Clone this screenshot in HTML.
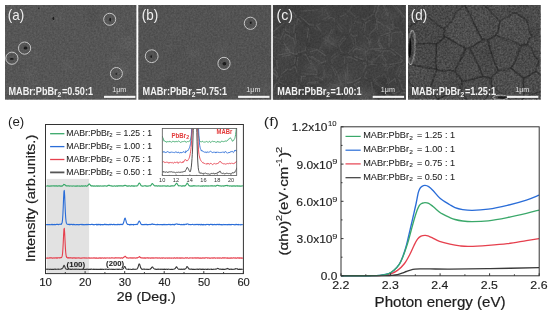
<!DOCTYPE html>
<html><head><meta charset="utf-8"><style>
html,body{margin:0;padding:0;background:#fff;overflow:hidden;}
svg{display:block;}
text{font-family:"Liberation Sans",sans-serif;}
</style></head><body>
<svg width="550" height="314" viewBox="0 0 550 314">
<rect width="550" height="314" fill="#fff"/>
<defs><filter id="bl" x="-30%" y="-30%" width="160%" height="160%"><feGaussianBlur stdDeviation="2.5"/></filter><filter id="bl1" x="-10%" y="-10%" width="120%" height="120%"><feGaussianBlur stdDeviation="0.7"/></filter><filter id="bl05" x="-10%" y="-10%" width="120%" height="120%"><feGaussianBlur stdDeviation="0.45"/></filter>
<clipPath id="cpa"><rect x="5.0" y="5.0" width="131.4" height="94.7"/></clipPath>
<clipPath id="cpb"><rect x="138.3" y="5.0" width="132.9" height="94.7"/></clipPath>
<clipPath id="cpc"><rect x="272.9" y="5.0" width="133.0" height="94.7"/></clipPath>
<clipPath id="cpd"><rect x="408.0" y="5.0" width="132.8" height="94.7"/></clipPath>
<filter id="noise" x="0" y="0" width="100%" height="100%" color-interpolation-filters="sRGB"><feTurbulence type="fractalNoise" baseFrequency="0.55" numOctaves="2" seed="4" result="t"/><feColorMatrix type="matrix" values="1.6 0 0 0 -0.3  1.6 0 0 0 -0.3  1.6 0 0 0 -0.3  0 0 0 0 1" in="t"/></filter>
<filter id="noise2" x="0" y="0" width="100%" height="100%"><feTurbulence type="fractalNoise" baseFrequency="0.12" numOctaves="3" seed="9" result="t"/><feColorMatrix type="matrix" values="0 0 0 0 0  0 0 0 0 0  0 0 0 0 0  0 0 0 -1.4 0.75" in="t"/></filter>
</defs>
<rect x="5.0" y="5.0" width="131.4" height="94.7" fill="#555555"/>
<rect x="138.3" y="5.0" width="132.9" height="94.7" fill="#525252"/>
<rect x="272.9" y="5.0" width="133.0" height="94.7" fill="#404040"/>
<rect x="408.0" y="5.0" width="132.8" height="94.7" fill="#494949"/>
<g clip-path="url(#cpa)"><g filter="url(#bl)"><ellipse cx="36.2" cy="56.5" rx="4.5" ry="4.4" fill="rgb(100,100,100)" opacity="0.35"/><ellipse cx="13.6" cy="6.2" rx="6.3" ry="5.9" fill="rgb(96,96,96)" opacity="0.35"/><ellipse cx="30.1" cy="72.9" rx="5.2" ry="4.3" fill="rgb(100,100,100)" opacity="0.35"/><ellipse cx="117.8" cy="27.0" rx="3.6" ry="3.8" fill="rgb(100,100,100)" opacity="0.35"/><ellipse cx="93.0" cy="11.1" rx="6.0" ry="4.7" fill="rgb(72,72,72)" opacity="0.35"/><ellipse cx="9.1" cy="87.0" rx="4.9" ry="5.0" fill="rgb(100,100,100)" opacity="0.35"/><ellipse cx="125.7" cy="42.4" rx="6.2" ry="7.3" fill="rgb(100,100,100)" opacity="0.35"/><ellipse cx="22.6" cy="39.6" rx="3.1" ry="2.3" fill="rgb(100,100,100)" opacity="0.35"/><ellipse cx="131.5" cy="46.3" rx="5.5" ry="4.7" fill="rgb(96,96,96)" opacity="0.35"/><ellipse cx="114.2" cy="59.4" rx="5.1" ry="4.9" fill="rgb(100,100,100)" opacity="0.35"/><ellipse cx="123.5" cy="69.6" rx="6.7" ry="8.0" fill="rgb(96,96,96)" opacity="0.35"/><ellipse cx="92.9" cy="20.4" rx="6.4" ry="6.6" fill="rgb(72,72,72)" opacity="0.35"/><ellipse cx="32.7" cy="83.8" rx="5.3" ry="3.6" fill="rgb(96,96,96)" opacity="0.35"/><ellipse cx="68.1" cy="65.5" rx="4.9" ry="5.3" fill="rgb(96,96,96)" opacity="0.35"/><ellipse cx="58.8" cy="19.3" rx="4.2" ry="4.7" fill="rgb(100,100,100)" opacity="0.35"/><ellipse cx="10.8" cy="63.2" rx="3.2" ry="3.0" fill="rgb(96,96,96)" opacity="0.35"/><ellipse cx="125.8" cy="31.4" rx="3.9" ry="3.1" fill="rgb(72,72,72)" opacity="0.35"/><ellipse cx="15.1" cy="61.8" rx="3.1" ry="3.7" fill="rgb(76,76,76)" opacity="0.35"/></g></g>
<g clip-path="url(#cpb)"><g filter="url(#bl)"><ellipse cx="176.8" cy="29.9" rx="5.8" ry="4.5" fill="rgb(94,94,94)" opacity="0.35"/><ellipse cx="265.5" cy="89.9" rx="4.5" ry="5.1" fill="rgb(98,98,98)" opacity="0.35"/><ellipse cx="189.4" cy="87.1" rx="5.7" ry="5.6" fill="rgb(70,70,70)" opacity="0.35"/><ellipse cx="263.1" cy="53.0" rx="4.7" ry="5.5" fill="rgb(74,74,74)" opacity="0.35"/><ellipse cx="196.2" cy="29.5" rx="4.2" ry="2.6" fill="rgb(94,94,94)" opacity="0.35"/><ellipse cx="193.2" cy="59.9" rx="3.1" ry="2.0" fill="rgb(74,74,74)" opacity="0.35"/><ellipse cx="221.4" cy="49.2" rx="5.7" ry="5.5" fill="rgb(94,94,94)" opacity="0.35"/><ellipse cx="175.1" cy="51.4" rx="5.4" ry="6.3" fill="rgb(70,70,70)" opacity="0.35"/><ellipse cx="171.4" cy="48.2" rx="5.4" ry="3.8" fill="rgb(94,94,94)" opacity="0.35"/><ellipse cx="162.6" cy="76.8" rx="6.4" ry="5.0" fill="rgb(94,94,94)" opacity="0.35"/><ellipse cx="188.2" cy="78.1" rx="3.1" ry="2.4" fill="rgb(74,74,74)" opacity="0.35"/><ellipse cx="167.6" cy="81.1" rx="4.0" ry="4.0" fill="rgb(74,74,74)" opacity="0.35"/><ellipse cx="224.4" cy="14.2" rx="5.4" ry="5.4" fill="rgb(94,94,94)" opacity="0.35"/><ellipse cx="167.9" cy="81.7" rx="6.8" ry="5.5" fill="rgb(70,70,70)" opacity="0.35"/><ellipse cx="224.5" cy="88.8" rx="4.8" ry="5.2" fill="rgb(74,74,74)" opacity="0.35"/><ellipse cx="142.5" cy="95.7" rx="4.3" ry="4.8" fill="rgb(74,74,74)" opacity="0.35"/><ellipse cx="183.2" cy="83.4" rx="3.3" ry="3.2" fill="rgb(94,94,94)" opacity="0.35"/><ellipse cx="194.0" cy="54.1" rx="6.4" ry="5.2" fill="rgb(98,98,98)" opacity="0.35"/></g></g>
<g clip-path="url(#cpc)"><g filter="url(#bl)"><ellipse cx="328.4" cy="44.8" rx="6.0" ry="4.2" fill="rgb(92,92,92)" opacity="0.50"/><ellipse cx="273.6" cy="94.3" rx="8.4" ry="7.9" fill="rgb(92,92,92)" opacity="0.50"/><ellipse cx="404.1" cy="72.9" rx="4.2" ry="4.6" fill="rgb(92,92,92)" opacity="0.50"/><ellipse cx="361.2" cy="54.2" rx="5.4" ry="6.2" fill="rgb(88,88,88)" opacity="0.50"/><ellipse cx="387.6" cy="86.3" rx="8.9" ry="9.6" fill="rgb(52,52,52)" opacity="0.50"/><ellipse cx="279.0" cy="90.6" rx="7.5" ry="8.5" fill="rgb(56,56,56)" opacity="0.50"/><ellipse cx="392.7" cy="59.6" rx="4.1" ry="2.9" fill="rgb(52,52,52)" opacity="0.50"/><ellipse cx="312.9" cy="67.8" rx="6.6" ry="4.2" fill="rgb(92,92,92)" opacity="0.50"/><ellipse cx="394.4" cy="15.8" rx="4.6" ry="5.0" fill="rgb(92,92,92)" opacity="0.50"/><ellipse cx="281.2" cy="25.9" rx="4.6" ry="3.2" fill="rgb(52,52,52)" opacity="0.50"/><ellipse cx="378.3" cy="92.3" rx="8.0" ry="7.2" fill="rgb(52,52,52)" opacity="0.50"/><ellipse cx="348.9" cy="42.9" rx="7.8" ry="5.9" fill="rgb(56,56,56)" opacity="0.50"/><ellipse cx="343.1" cy="45.1" rx="6.4" ry="7.1" fill="rgb(52,52,52)" opacity="0.50"/><ellipse cx="376.1" cy="9.4" rx="4.2" ry="5.0" fill="rgb(92,92,92)" opacity="0.50"/><ellipse cx="386.6" cy="13.2" rx="6.5" ry="4.5" fill="rgb(88,88,88)" opacity="0.50"/><ellipse cx="282.5" cy="41.5" rx="5.9" ry="4.9" fill="rgb(88,88,88)" opacity="0.50"/><ellipse cx="298.4" cy="36.1" rx="4.6" ry="4.8" fill="rgb(52,52,52)" opacity="0.50"/><ellipse cx="323.6" cy="12.6" rx="4.9" ry="4.3" fill="rgb(88,88,88)" opacity="0.50"/><ellipse cx="359.5" cy="56.3" rx="7.2" ry="7.0" fill="rgb(52,52,52)" opacity="0.50"/><ellipse cx="330.4" cy="40.3" rx="6.5" ry="5.5" fill="rgb(88,88,88)" opacity="0.50"/><ellipse cx="365.3" cy="48.6" rx="5.2" ry="5.3" fill="rgb(88,88,88)" opacity="0.50"/><ellipse cx="282.5" cy="45.2" rx="6.1" ry="7.1" fill="rgb(52,52,52)" opacity="0.50"/><ellipse cx="322.8" cy="90.0" rx="8.0" ry="5.4" fill="rgb(88,88,88)" opacity="0.50"/><ellipse cx="364.8" cy="93.9" rx="7.7" ry="7.7" fill="rgb(92,92,92)" opacity="0.50"/><ellipse cx="370.6" cy="58.4" rx="4.5" ry="4.0" fill="rgb(52,52,52)" opacity="0.50"/><ellipse cx="304.4" cy="41.8" rx="6.6" ry="6.6" fill="rgb(52,52,52)" opacity="0.50"/><ellipse cx="323.0" cy="82.6" rx="5.7" ry="3.5" fill="rgb(52,52,52)" opacity="0.50"/><ellipse cx="288.3" cy="50.6" rx="7.5" ry="7.1" fill="rgb(88,88,88)" opacity="0.50"/><ellipse cx="379.2" cy="8.4" rx="7.8" ry="5.2" fill="rgb(56,56,56)" opacity="0.50"/><ellipse cx="372.6" cy="93.5" rx="4.3" ry="4.8" fill="rgb(88,88,88)" opacity="0.50"/><ellipse cx="297.0" cy="12.3" rx="9.0" ry="7.8" fill="rgb(56,56,56)" opacity="0.50"/><ellipse cx="366.1" cy="94.3" rx="5.3" ry="6.1" fill="rgb(92,92,92)" opacity="0.50"/><ellipse cx="347.0" cy="96.5" rx="5.9" ry="7.0" fill="rgb(56,56,56)" opacity="0.50"/><ellipse cx="327.9" cy="75.8" rx="4.8" ry="3.3" fill="rgb(92,92,92)" opacity="0.50"/><ellipse cx="326.3" cy="89.1" rx="4.8" ry="5.0" fill="rgb(92,92,92)" opacity="0.50"/><ellipse cx="394.9" cy="54.0" rx="6.2" ry="4.2" fill="rgb(56,56,56)" opacity="0.50"/><ellipse cx="373.0" cy="18.9" rx="6.6" ry="7.3" fill="rgb(56,56,56)" opacity="0.50"/><ellipse cx="344.6" cy="78.8" rx="7.4" ry="7.0" fill="rgb(92,92,92)" opacity="0.50"/><ellipse cx="350.7" cy="98.2" rx="8.4" ry="5.2" fill="rgb(88,88,88)" opacity="0.50"/><ellipse cx="336.8" cy="41.2" rx="4.9" ry="3.6" fill="rgb(88,88,88)" opacity="0.50"/><ellipse cx="337.2" cy="86.8" rx="6.1" ry="6.2" fill="rgb(92,92,92)" opacity="0.50"/><ellipse cx="300.4" cy="60.0" rx="8.5" ry="7.6" fill="rgb(52,52,52)" opacity="0.50"/><ellipse cx="368.9" cy="86.1" rx="6.0" ry="5.3" fill="rgb(52,52,52)" opacity="0.50"/><ellipse cx="303.5" cy="27.2" rx="7.6" ry="8.9" fill="rgb(52,52,52)" opacity="0.50"/><ellipse cx="386.6" cy="27.9" rx="4.9" ry="3.4" fill="rgb(88,88,88)" opacity="0.50"/></g></g>
<g clip-path="url(#cpd)"><g filter="url(#bl)"><ellipse cx="490.7" cy="68.9" rx="4.2" ry="2.9" fill="rgb(86,86,86)" opacity="0.45"/><ellipse cx="414.0" cy="22.4" rx="4.5" ry="3.0" fill="rgb(56,56,56)" opacity="0.45"/><ellipse cx="443.1" cy="91.5" rx="4.2" ry="4.0" fill="rgb(90,90,90)" opacity="0.45"/><ellipse cx="497.8" cy="5.7" rx="5.7" ry="4.7" fill="rgb(90,90,90)" opacity="0.45"/><ellipse cx="418.4" cy="66.0" rx="7.7" ry="6.4" fill="rgb(90,90,90)" opacity="0.45"/><ellipse cx="480.4" cy="16.3" rx="5.4" ry="3.6" fill="rgb(90,90,90)" opacity="0.45"/><ellipse cx="526.0" cy="91.1" rx="4.5" ry="4.5" fill="rgb(86,86,86)" opacity="0.45"/><ellipse cx="457.0" cy="47.7" rx="7.3" ry="4.9" fill="rgb(86,86,86)" opacity="0.45"/><ellipse cx="533.6" cy="37.1" rx="6.8" ry="6.8" fill="rgb(56,56,56)" opacity="0.45"/><ellipse cx="475.7" cy="10.6" rx="5.5" ry="5.4" fill="rgb(60,60,60)" opacity="0.45"/><ellipse cx="505.1" cy="19.2" rx="5.9" ry="3.9" fill="rgb(90,90,90)" opacity="0.45"/><ellipse cx="531.9" cy="18.4" rx="5.7" ry="5.3" fill="rgb(90,90,90)" opacity="0.45"/><ellipse cx="494.1" cy="48.3" rx="5.6" ry="5.7" fill="rgb(60,60,60)" opacity="0.45"/><ellipse cx="422.3" cy="22.2" rx="6.8" ry="5.5" fill="rgb(90,90,90)" opacity="0.45"/><ellipse cx="443.4" cy="41.3" rx="8.4" ry="7.4" fill="rgb(56,56,56)" opacity="0.45"/><ellipse cx="444.1" cy="70.9" rx="6.6" ry="7.7" fill="rgb(86,86,86)" opacity="0.45"/><ellipse cx="467.6" cy="81.6" rx="4.3" ry="4.8" fill="rgb(90,90,90)" opacity="0.45"/><ellipse cx="422.9" cy="30.6" rx="4.5" ry="4.2" fill="rgb(56,56,56)" opacity="0.45"/><ellipse cx="529.0" cy="15.6" rx="7.5" ry="7.5" fill="rgb(90,90,90)" opacity="0.45"/><ellipse cx="460.0" cy="98.1" rx="4.6" ry="5.2" fill="rgb(60,60,60)" opacity="0.45"/><ellipse cx="514.2" cy="56.6" rx="4.9" ry="3.5" fill="rgb(60,60,60)" opacity="0.45"/><ellipse cx="441.3" cy="79.0" rx="4.2" ry="4.7" fill="rgb(90,90,90)" opacity="0.45"/><ellipse cx="534.3" cy="41.3" rx="6.8" ry="6.6" fill="rgb(86,86,86)" opacity="0.45"/><ellipse cx="537.9" cy="70.0" rx="5.5" ry="3.4" fill="rgb(90,90,90)" opacity="0.45"/><ellipse cx="433.3" cy="65.0" rx="4.5" ry="4.1" fill="rgb(60,60,60)" opacity="0.45"/><ellipse cx="477.6" cy="48.6" rx="5.0" ry="3.1" fill="rgb(60,60,60)" opacity="0.45"/><ellipse cx="474.6" cy="66.2" rx="6.2" ry="7.3" fill="rgb(86,86,86)" opacity="0.45"/><ellipse cx="526.6" cy="17.8" rx="8.0" ry="4.9" fill="rgb(56,56,56)" opacity="0.45"/><ellipse cx="490.2" cy="52.9" rx="6.5" ry="7.5" fill="rgb(56,56,56)" opacity="0.45"/><ellipse cx="451.0" cy="87.4" rx="7.5" ry="4.8" fill="rgb(60,60,60)" opacity="0.45"/><ellipse cx="519.6" cy="78.4" rx="4.2" ry="4.4" fill="rgb(56,56,56)" opacity="0.45"/><ellipse cx="453.7" cy="81.4" rx="8.7" ry="7.5" fill="rgb(60,60,60)" opacity="0.45"/><ellipse cx="508.7" cy="50.9" rx="4.5" ry="3.8" fill="rgb(56,56,56)" opacity="0.45"/><ellipse cx="520.4" cy="71.8" rx="6.0" ry="6.1" fill="rgb(90,90,90)" opacity="0.45"/><ellipse cx="479.5" cy="45.0" rx="7.2" ry="4.4" fill="rgb(86,86,86)" opacity="0.45"/></g></g>
<g clip-path="url(#cpd)"><g filter="url(#bl05)" stroke-linejoin="round">
<path d="M444.4,36.1 L445.4,34.2 L444.9,31.6 L443.9,29.1 L438.4,25.4 L433.3,21.2 L426.1,15.6 L420.9,19.2 L413.7,23.7 L407.9,29.7 L410.9,35.2 L412.4,38.4 L416.5,44.1 L422.7,43.5 L430.2,43.8 L436.2,44.3 L439.2,41.6 L441.8,40.1Z" fill="rgb(73,73,73)" fill-opacity="0.55" stroke="#2c2c2c" stroke-width="1.5" stroke-opacity="0.6"/>
<path d="M436.8,69.8 L441.8,71.2 L450.2,70.6 L455.1,71.6 L458.7,64.5 L462.0,54.9 L466.1,48.2 L458.0,43.7 L450.8,39.9 L444.4,36.1 L442.2,39.6 L438.8,42.7 L436.2,44.3 L436.2,52.4 L435.1,60.0 L436.3,69.0 L437.2,69.6 L437.3,70.8Z" fill="rgb(74,74,74)" fill-opacity="0.55" stroke="#2c2c2c" stroke-width="1.5" stroke-opacity="0.6"/>
<path d="M436.8,69.8 L434.9,76.0 L431.6,84.1 L429.5,89.9 L426.4,89.8 L422.0,89.7 L416.5,90.3 L409.5,82.8 L405.0,76.2 L398.4,67.3 L402.1,66.6 L404.0,65.0 L405.9,63.0 L416.5,65.7 L427.2,66.7 L436.3,69.0 L435.4,68.6 L435.9,69.2Z" fill="rgb(79,79,79)" fill-opacity="0.55" stroke="#2c2c2c" stroke-width="1.5" stroke-opacity="0.6"/>
<path d="M436.8,69.8 L433.6,76.1 L432.0,83.5 L429.5,89.9 L431.5,93.8 L435.2,95.3 L437.3,99.7 L443.9,96.0 L453.4,94.1 L460.5,89.6 L461.6,87.7 L462.4,83.0 L462.0,81.0 L459.9,77.5 L458.0,73.6 L455.1,71.6 L448.2,70.1 L444.3,71.6Z" fill="rgb(76,76,76)" fill-opacity="0.55" stroke="#2c2c2c" stroke-width="1.5" stroke-opacity="0.6"/>
<path d="M464.5,5.0 L466.1,-1.2 L465.7,-5.9 L468.2,-11.7 L478.4,0.2 L489.2,9.9 L500.2,21.4 L499.1,26.1 L498.4,31.3 L495.7,35.3 L493.1,36.1 L490.7,39.0 L487.7,39.9 L486.6,41.2 L483.4,39.7 L482.3,39.8 L476.2,27.9 L470.2,16.8Z" fill="rgb(79,79,79)" fill-opacity="0.55" stroke="#2c2c2c" stroke-width="1.5" stroke-opacity="0.6"/>
<path d="M482.3,39.8 L483.0,38.8 L485.3,39.0 L487.7,39.9 L490.2,49.9 L494.3,60.5 L498.4,70.4 L495.8,74.0 L493.5,76.8 L491.1,78.7 L487.2,77.1 L486.0,77.0 L482.9,76.5 L478.3,66.0 L473.1,57.7 L469.3,47.6 L473.7,45.0 L478.8,42.0Z" fill="rgb(71,71,71)" fill-opacity="0.55" stroke="#2c2c2c" stroke-width="1.5" stroke-opacity="0.6"/>
<path d="M527.0,44.3 L524.0,44.3 L522.9,45.7 L521.4,46.1 L513.7,42.9 L503.6,40.0 L495.7,35.3 L497.8,30.7 L499.1,26.2 L500.2,21.4 L503.6,18.7 L510.0,16.0 L513.1,12.2 L516.5,13.6 L522.7,18.0 L525.9,19.4 L528.7,25.7 L529.2,31.5 L532.3,36.5 L529.7,38.1 L528.5,40.3Z" fill="rgb(83,83,83)" fill-opacity="0.55" stroke="#2c2c2c" stroke-width="1.5" stroke-opacity="0.6"/>
<path d="M538.8,60.5 L537.4,64.9 L536.1,67.3 L536.4,71.5 L532.2,74.1 L527.6,76.2 L523.2,78.4 L520.4,75.7 L516.4,72.7 L511.0,68.2 L515.6,59.9 L516.6,52.9 L521.4,46.1 L522.1,44.6 L526.0,46.0 L527.0,44.3 L531.9,48.4 L534.3,55.7Z" fill="rgb(75,75,75)" fill-opacity="0.55" stroke="#2c2c2c" stroke-width="1.5" stroke-opacity="0.6"/>
<path d="M491.1,78.7 L492.1,80.8 L490.7,84.2 L492.5,86.8 L502.2,93.8 L510.1,99.6 L520.3,105.6 L522.5,102.5 L521.9,100.5 L523.5,98.1 L523.6,92.9 L523.5,86.1 L523.2,78.4 L519.6,75.0 L514.6,71.3 L511.0,68.2 L507.6,68.1 L501.8,68.9 L498.4,70.4 L496.4,72.8 L492.8,75.4Z" fill="rgb(84,84,84)" fill-opacity="0.55" stroke="#2c2c2c" stroke-width="1.5" stroke-opacity="0.6"/>
<path d="M491.1,78.7 L491.3,80.6 L491.0,83.5 L492.5,86.8 L487.0,96.6 L480.5,105.3 L475.1,114.0 L470.3,105.9 L464.3,97.6 L460.5,89.6 L459.7,87.2 L462.0,82.8 L462.0,81.0 L468.3,80.7 L475.1,78.2 L482.9,76.5 L484.8,76.5 L487.2,78.1Z" fill="rgb(76,76,76)" fill-opacity="0.55" stroke="#2c2c2c" stroke-width="1.5" stroke-opacity="0.6"/>
<path d="M444.4,36.1 L443.0,34.4 L445.4,30.3 L443.9,29.1 L451.7,21.2 L456.2,12.0 L464.5,5.0 L470.4,15.4 L475.7,27.4 L482.3,39.8 L479.2,42.3 L473.2,46.1 L469.3,47.6 L469.5,48.4 L466.3,49.0 L466.1,48.2 L458.8,45.0 L452.3,40.6Z" fill="rgb(82,82,82)" fill-opacity="0.55" stroke="#2c2c2c" stroke-width="1.5" stroke-opacity="0.6"/>
<path d="M487.7,39.9 L490.7,49.7 L493.7,61.2 L498.4,70.4 L502.6,70.7 L506.7,69.9 L511.0,68.2 L515.1,62.2 L517.9,53.7 L521.4,46.1 L514.0,41.4 L504.1,38.1 L495.7,35.3 L493.6,37.8 L490.5,38.4Z" fill="rgb(78,78,78)" fill-opacity="0.55" stroke="#2c2c2c" stroke-width="1.5" stroke-opacity="0.6"/>
<path d="M436.3,69.0 L425.7,68.0 L415.7,65.7 L405.9,63.0 L408.9,56.8 L413.9,50.5 L416.5,44.1 L423.3,43.8 L429.4,43.1 L436.2,44.3 L436.3,52.3 L435.7,59.8Z" fill="rgb(72,72,72)" fill-opacity="0.55" stroke="#2c2c2c" stroke-width="1.5" stroke-opacity="0.6"/>
<path d="M523.2,78.4 L523.6,84.1 L524.3,91.6 L523.5,98.1 L532.6,94.1 L543.9,90.3 L553.8,85.1 L548.4,80.7 L541.0,75.6 L536.4,71.5 L533.1,72.8 L527.5,76.8Z" fill="rgb(80,80,80)" fill-opacity="0.55" stroke="#2c2c2c" stroke-width="1.5" stroke-opacity="0.6"/>
<path d="M455.1,71.6 L456.9,74.4 L459.9,76.6 L462.0,81.0 L469.7,79.7 L475.6,78.4 L482.9,76.5 L479.6,67.8 L474.3,56.7 L469.3,47.6 L469.5,47.5 L468.3,48.0 L466.1,48.2 L462.9,56.9 L457.7,63.1Z" fill="rgb(77,77,77)" fill-opacity="0.55" stroke="#2c2c2c" stroke-width="1.5" stroke-opacity="0.6"/>
<path d="M468.6,694.6 L458.4,497.6 L448.9,302.9 L437.3,99.7 L445.6,95.6 L452.7,92.6 L460.5,89.6 L466.4,98.5 L469.2,105.0 L475.1,114.0 L472.6,306.7 L471.7,496.8Z" fill="rgb(85,85,85)" fill-opacity="0.55" stroke="#2c2c2c" stroke-width="1.5" stroke-opacity="0.6"/>
</g></g>
<g clip-path="url(#cpd)">
<ellipse cx="409.4" cy="47" rx="1.9" ry="10.5" fill="#101010" filter="url(#bl05)"/>
<ellipse cx="411.4" cy="47.6" rx="3.6" ry="17" fill="none" stroke="#9a9a9a" stroke-width="1.1" transform="rotate(3 411.4 47.6)" filter="url(#bl05)"/>
<ellipse cx="500.6" cy="97.4" rx="7.6" ry="2.3" fill="none" stroke="#b0b0b0" stroke-width="0.9" filter="url(#bl05)"/>
<ellipse cx="502" cy="97.6" rx="4" ry="1.1" fill="#1a1a1a" filter="url(#bl05)"/>
</g>
<g clip-path="url(#cpc)"><g filter="url(#bl1)" fill="none" stroke-linejoin="round">
<path d="M293.3,12.0 L296.0,16.0 L293.5,35.1 L285.5,30.5 L285.5,21.4 L290.7,9.9Z" fill="rgb(74,74,74)" fill-opacity="0.35" stroke="rgb(94,94,94)" stroke-width="1.3" stroke-opacity="0.6" stroke-dasharray="9 6" stroke-dashoffset="2"/>
<path d="M160.0,69.1 L-2053.8,137.8 L182.7,85.8 L184.5,83.4Z" fill="rgb(69,69,69)" fill-opacity="0.35" stroke="rgb(89,89,89)" stroke-width="1.3" stroke-opacity="0.6" stroke-dasharray="18 10" stroke-dashoffset="3"/>
<path d="M360.0,268.9 L346.7,100.3 L346.7,100.3 L342.2,100.0 L334.1,101.3 L331.7,103.8 L325.8,131.7 L362.5,491.4 L364.7,352.1Z" fill="rgb(61,61,61)" fill-opacity="0.35" stroke="rgb(81,81,81)" stroke-width="1.3" stroke-opacity="0.6" stroke-dasharray="19 6" stroke-dashoffset="11"/>
<path d="M376.1,29.7 L379.1,37.0 L377.2,39.0 L370.4,39.4 L368.6,37.2Z" fill="rgb(60,60,60)" fill-opacity="0.35" stroke="rgb(80,80,80)" stroke-width="1.3" stroke-opacity="0.6" stroke-dasharray="8 5" stroke-dashoffset="11"/>
<path d="M326.9,80.7 L326.0,79.7 L323.4,65.9 L330.1,62.7 L339.9,83.5 L331.8,84.8Z" fill="rgb(67,67,67)" fill-opacity="0.35" stroke="rgb(87,87,87)" stroke-width="1.3" stroke-opacity="0.6" stroke-dasharray="11 9" stroke-dashoffset="14"/>
<path d="M337.4,44.9 L328.5,40.5 L328.5,40.4 L335.6,24.3 L345.0,35.9Z" fill="rgb(64,64,64)" fill-opacity="0.35" stroke="rgb(84,84,84)" stroke-width="1.3" stroke-opacity="0.6" stroke-dasharray="8 5" stroke-dashoffset="9"/>
<path d="M334.0,-12.1 L343.3,-16.3 L363.8,-56.9 L269.1,-1047.4 L326.6,-20.4 L331.1,-13.4Z" fill="rgb(65,65,65)" fill-opacity="0.35" stroke="rgb(85,85,85)" stroke-width="1.3" stroke-opacity="0.6" stroke-dasharray="14 11" stroke-dashoffset="7"/>
<path d="M387.1,91.0 L385.5,88.0 L389.6,82.3 L394.8,78.9 L399.3,91.4 L394.2,93.7Z" fill="rgb(72,72,72)" fill-opacity="0.35" stroke="rgb(92,92,92)" stroke-width="1.3" stroke-opacity="0.6" stroke-dasharray="13 4" stroke-dashoffset="9"/>
<path d="M370.4,40.6 L367.8,49.4 L380.9,48.3 L377.1,40.2Z" fill="rgb(75,75,75)" fill-opacity="0.35" stroke="rgb(95,95,95)" stroke-width="1.3" stroke-opacity="0.6" stroke-dasharray="18 7" stroke-dashoffset="13"/>
<path d="M295.3,56.8 L294.4,63.9 L279.8,75.1 L277.5,69.8 L276.4,57.4 L289.5,55.2Z" fill="rgb(74,74,74)" fill-opacity="0.35" stroke="rgb(94,94,94)" stroke-width="1.3" stroke-opacity="0.6" stroke-dasharray="9 8" stroke-dashoffset="19"/>
<path d="M398.2,76.9 L403.8,64.5 L406.5,62.8 L420.5,60.7 L461.2,71.7 L416.9,88.1 L402.6,89.4Z" fill="rgb(67,67,67)" fill-opacity="0.35" stroke="rgb(87,87,87)" stroke-width="1.3" stroke-opacity="0.6" stroke-dasharray="19 4" stroke-dashoffset="11"/>
<path d="M392.9,33.0 L395.8,32.1 L400.8,31.8 L418.2,56.3 L404.1,58.4 L390.9,48.5 L391.5,34.7Z" fill="rgb(71,71,71)" fill-opacity="0.35" stroke="rgb(91,91,91)" stroke-width="1.3" stroke-opacity="0.6" stroke-dasharray="15 4" stroke-dashoffset="3"/>
<path d="M285.5,34.0 L282.2,40.7 L290.3,52.7 L296.0,54.4 L297.3,53.5 L293.5,38.6Z" fill="rgb(74,74,74)" fill-opacity="0.35" stroke="rgb(94,94,94)" stroke-width="1.3" stroke-opacity="0.6" stroke-dasharray="19 8" stroke-dashoffset="16"/>
<path d="M373.0,14.4 L378.4,-3.3 L378.6,-4.5 L369.3,-29.2 L348.7,11.5 L356.4,17.4 L365.1,19.9Z" fill="rgb(63,63,63)" fill-opacity="0.35" stroke="rgb(83,83,83)" stroke-width="1.3" stroke-opacity="0.6" stroke-dasharray="17 5" stroke-dashoffset="3"/>
<path d="M276.8,82.8 L274.9,85.2 L271.1,97.2 L277.7,100.4 L286.9,89.0 L276.8,82.8Z" fill="rgb(70,70,70)" fill-opacity="0.35" stroke="rgb(90,90,90)" stroke-width="1.3" stroke-opacity="0.6" stroke-dasharray="13 11" stroke-dashoffset="1"/>
<path d="M303.2,83.2 L324.4,81.2 L323.5,80.2 L317.8,77.0 L301.5,76.2 L301.2,82.5Z" fill="rgb(74,74,74)" fill-opacity="0.35" stroke="rgb(94,94,94)" stroke-width="1.3" stroke-opacity="0.6" stroke-dasharray="10 8" stroke-dashoffset="13"/>
<path d="M294.4,90.9 L288.7,90.4 L279.5,101.9 L290.2,115.0 L297.5,101.3Z" fill="rgb(72,72,72)" fill-opacity="0.35" stroke="rgb(92,92,92)" stroke-width="1.3" stroke-opacity="0.6" stroke-dasharray="8 8" stroke-dashoffset="15"/>
<path d="M364.2,77.5 L369.2,64.5 L371.0,64.1 L386.7,66.5 L387.1,66.7 L383.7,72.2 L373.7,80.0 L372.6,79.8Z" fill="rgb(66,66,66)" fill-opacity="0.35" stroke="rgb(86,86,86)" stroke-width="1.3" stroke-opacity="0.6" stroke-dasharray="9 6" stroke-dashoffset="17"/>
<path d="M389.6,80.1 L385.9,72.2 L389.4,66.8 L400.5,64.3 L394.9,76.7Z" fill="rgb(65,65,65)" fill-opacity="0.35" stroke="rgb(85,85,85)" stroke-width="1.3" stroke-opacity="0.6" stroke-dasharray="11 7" stroke-dashoffset="8"/>
<path d="M328.8,16.2 L324.3,9.2 L296.3,11.4 L299.0,15.4 L310.0,25.2 L314.2,24.8Z" fill="rgb(69,69,69)" fill-opacity="0.35" stroke="rgb(89,89,89)" stroke-width="1.3" stroke-opacity="0.6" stroke-dasharray="18 10" stroke-dashoffset="14"/>
<path d="M304.6,84.2 L325.8,82.2 L330.7,86.3 L328.2,88.8 L317.7,92.5Z" fill="rgb(64,64,64)" fill-opacity="0.35" stroke="rgb(84,84,84)" stroke-width="1.3" stroke-opacity="0.6" stroke-dasharray="13 7" stroke-dashoffset="18"/>
<path d="M283.6,32.2 L280.3,39.0 L270.1,35.5 L269.4,34.8 L283.6,23.1Z" fill="rgb(66,66,66)" fill-opacity="0.35" stroke="rgb(86,86,86)" stroke-width="1.3" stroke-opacity="0.6" stroke-dasharray="19 4" stroke-dashoffset="3"/>
<path d="M280.1,41.2 L270.0,37.7 L271.6,51.3 L272.6,55.2 L275.1,55.5 L288.3,53.2Z" fill="rgb(74,74,74)" fill-opacity="0.35" stroke="rgb(94,94,94)" stroke-width="1.3" stroke-opacity="0.6" stroke-dasharray="17 9" stroke-dashoffset="19"/>
<path d="M374.8,19.7 L375.5,28.2 L368.0,35.8 L364.4,32.5 L365.5,23.1 L373.5,17.6Z" fill="rgb(66,66,66)" fill-opacity="0.35" stroke="rgb(86,86,86)" stroke-width="1.3" stroke-opacity="0.6" stroke-dasharray="14 7" stroke-dashoffset="17"/>
<path d="M352.7,82.2 L347.9,83.0 L347.9,83.0 L346.7,57.8 L349.1,56.7 L366.0,63.9 L366.3,64.5 L361.2,77.5Z" fill="rgb(73,73,73)" fill-opacity="0.35" stroke="rgb(93,93,93)" stroke-width="1.3" stroke-opacity="0.6" stroke-dasharray="12 6" stroke-dashoffset="6"/>
<path d="M276.9,77.1 L275.4,80.4 L275.4,80.4 L250.9,66.1 L260.1,63.6 L266.4,67.3Z" fill="rgb(71,71,71)" fill-opacity="0.35" stroke="rgb(91,91,91)" stroke-width="1.3" stroke-opacity="0.6" stroke-dasharray="16 4" stroke-dashoffset="13"/>
<path d="M344.5,57.1 L345.7,82.3 L341.2,82.0 L331.4,61.3 L331.8,59.4 L339.8,53.9Z" fill="rgb(65,65,65)" fill-opacity="0.35" stroke="rgb(85,85,85)" stroke-width="1.3" stroke-opacity="0.6" stroke-dasharray="14 5" stroke-dashoffset="7"/>
<path d="M334.1,18.6 L334.7,22.6 L327.6,38.6 L316.5,25.8 L331.2,17.3Z" fill="rgb(69,69,69)" fill-opacity="0.35" stroke="rgb(89,89,89)" stroke-width="1.3" stroke-opacity="0.6" stroke-dasharray="12 8" stroke-dashoffset="9"/>
<path d="M394.8,27.8 L399.8,27.5 L403.9,18.7 L388.8,0.6 L382.1,-3.4 L381.9,-2.2Z" fill="rgb(62,62,62)" fill-opacity="0.35" stroke="rgb(82,82,82)" stroke-width="1.3" stroke-opacity="0.6" stroke-dasharray="11 4" stroke-dashoffset="7"/>
<path d="M374.5,98.8 L371.2,82.2 L362.7,79.9 L354.2,84.6 L366.9,97.0Z" fill="rgb(74,74,74)" fill-opacity="0.35" stroke="rgb(94,94,94)" stroke-width="1.3" stroke-opacity="0.6" stroke-dasharray="19 11" stroke-dashoffset="2"/>
<path d="M363.7,23.6 L355.0,21.1 L350.7,35.1 L354.1,36.7 L362.6,33.0Z" fill="rgb(67,67,67)" fill-opacity="0.35" stroke="rgb(87,87,87)" stroke-width="1.3" stroke-opacity="0.6" stroke-dasharray="10 10" stroke-dashoffset="18"/>
<path d="M352.7,38.9 L354.0,47.1 L348.0,53.1 L345.6,54.2 L340.9,51.1 L339.1,46.1 L346.7,37.1 L349.2,37.3Z" fill="rgb(66,66,66)" fill-opacity="0.35" stroke="rgb(86,86,86)" stroke-width="1.3" stroke-opacity="0.6" stroke-dasharray="19 5" stroke-dashoffset="2"/>
<path d="M408.7,-0.5 L570.5,-21.5 L428.6,11.1Z" fill="rgb(62,62,62)" fill-opacity="0.35" stroke="rgb(82,82,82)" stroke-width="1.3" stroke-opacity="0.6" stroke-dasharray="13 6" stroke-dashoffset="1"/>
<path d="M295.1,37.8 L298.8,52.7 L304.8,50.7 L305.2,50.3 L308.5,28.4 L297.5,18.6Z" fill="rgb(72,72,72)" fill-opacity="0.35" stroke="rgb(92,92,92)" stroke-width="1.3" stroke-opacity="0.6" stroke-dasharray="12 8" stroke-dashoffset="6"/>
<path d="M388.4,81.4 L384.6,73.5 L374.7,81.3 L384.3,87.0Z" fill="rgb(62,62,62)" fill-opacity="0.35" stroke="rgb(82,82,82)" stroke-width="1.3" stroke-opacity="0.6" stroke-dasharray="14 4" stroke-dashoffset="0"/>
<path d="M324.4,78.6 L318.7,75.4 L308.0,55.6 L321.7,64.8Z" fill="rgb(65,65,65)" fill-opacity="0.35" stroke="rgb(85,85,85)" stroke-width="1.3" stroke-opacity="0.6" stroke-dasharray="15 6" stroke-dashoffset="12"/>
<path d="M297.8,56.6 L296.9,63.8 L300.3,73.7 L316.6,74.5 L305.8,54.7 L305.0,53.8 L299.0,55.8Z" fill="rgb(72,72,72)" fill-opacity="0.35" stroke="rgb(92,92,92)" stroke-width="1.3" stroke-opacity="0.6" stroke-dasharray="14 11" stroke-dashoffset="4"/>
<path d="M275.2,69.7 L274.2,57.3 L271.7,57.1 L260.4,62.2 L266.7,65.9Z" fill="rgb(62,62,62)" fill-opacity="0.35" stroke="rgb(82,82,82)" stroke-width="1.3" stroke-opacity="0.6" stroke-dasharray="19 7" stroke-dashoffset="16"/>
<path d="M302.1,84.9 L315.2,93.2 L308.7,99.3 L299.4,100.1 L296.3,89.8 L300.0,84.1Z" fill="rgb(64,64,64)" fill-opacity="0.35" stroke="rgb(84,84,84)" stroke-width="1.3" stroke-opacity="0.6" stroke-dasharray="11 8" stroke-dashoffset="17"/>
<path d="M381.8,54.4 L383.7,50.6 L389.8,50.8 L403.0,60.7 L400.3,62.4 L389.2,64.8 L388.8,64.7Z" fill="rgb(72,72,72)" fill-opacity="0.35" stroke="rgb(92,92,92)" stroke-width="1.3" stroke-opacity="0.6" stroke-dasharray="18 5" stroke-dashoffset="0"/>
<path d="M395.8,118.0 L415.0,91.8 L400.7,93.0 L395.6,95.4Z" fill="rgb(75,75,75)" fill-opacity="0.35" stroke="rgb(95,95,95)" stroke-width="1.3" stroke-opacity="0.6" stroke-dasharray="10 4" stroke-dashoffset="19"/>
<path d="M389.3,34.8 L388.8,48.6 L382.7,48.5 L382.3,48.1 L378.5,40.0 L380.4,37.9Z" fill="rgb(72,72,72)" fill-opacity="0.35" stroke="rgb(92,92,92)" stroke-width="1.3" stroke-opacity="0.6" stroke-dasharray="16 5" stroke-dashoffset="4"/>
<path d="M353.3,20.2 L345.6,14.3 L336.3,18.5 L336.9,22.5 L346.3,34.0 L348.9,34.2Z" fill="rgb(66,66,66)" fill-opacity="0.35" stroke="rgb(86,86,86)" stroke-width="1.3" stroke-opacity="0.6" stroke-dasharray="9 9" stroke-dashoffset="11"/>
<path d="M349.7,54.3 L366.7,61.5 L365.2,51.5 L355.7,48.3Z" fill="rgb(75,75,75)" fill-opacity="0.35" stroke="rgb(95,95,95)" stroke-width="1.3" stroke-opacity="0.6" stroke-dasharray="10 4" stroke-dashoffset="9"/>
<path d="M317.5,94.5 L328.0,90.8 L322.1,118.7 L311.0,100.6Z" fill="rgb(64,64,64)" fill-opacity="0.35" stroke="rgb(84,84,84)" stroke-width="1.3" stroke-opacity="0.6" stroke-dasharray="13 11" stroke-dashoffset="9"/>
<path d="M298.0,82.4 L298.3,76.2 L294.9,66.3 L280.3,77.4 L279.9,78.1 L278.4,81.4 L288.6,87.6 L294.3,88.1Z" fill="rgb(66,66,66)" fill-opacity="0.35" stroke="rgb(86,86,86)" stroke-width="1.3" stroke-opacity="0.6" stroke-dasharray="14 9" stroke-dashoffset="14"/>
<path d="M336.8,46.6 L327.9,42.2 L319.4,48.8 L330.6,57.1 L338.6,51.6Z" fill="rgb(61,61,61)" fill-opacity="0.35" stroke="rgb(81,81,81)" stroke-width="1.3" stroke-opacity="0.6" stroke-dasharray="9 9" stroke-dashoffset="19"/>
<path d="M367.7,50.9 L367.1,51.7 L368.6,61.7 L368.8,62.3 L370.6,61.9 L379.3,54.0 L381.2,50.2 L380.8,49.8Z" fill="rgb(74,74,74)" fill-opacity="0.35" stroke="rgb(94,94,94)" stroke-width="1.3" stroke-opacity="0.6" stroke-dasharray="9 8" stroke-dashoffset="7"/>
<path d="M278.3,76.5 L276.0,71.2 L267.4,67.4 L277.9,77.1Z" fill="rgb(72,72,72)" fill-opacity="0.35" stroke="rgb(92,92,92)" stroke-width="1.3" stroke-opacity="0.6" stroke-dasharray="19 11" stroke-dashoffset="8"/>
<path d="M266.9,35.2 L234.5,23.7 L269.3,49.5 L267.6,35.9Z" fill="rgb(71,71,71)" fill-opacity="0.35" stroke="rgb(91,91,91)" stroke-width="1.3" stroke-opacity="0.6" stroke-dasharray="13 6" stroke-dashoffset="5"/>
<path d="M380.2,54.7 L371.5,62.7 L387.2,65.0Z" fill="rgb(69,69,69)" fill-opacity="0.35" stroke="rgb(89,89,89)" stroke-width="1.3" stroke-opacity="0.6" stroke-dasharray="19 8" stroke-dashoffset="5"/>
<path d="M384.7,158.4 L368.5,350.9 L363.8,267.6 L367.9,110.5 L375.5,112.4 L377.8,113.5Z" fill="rgb(71,71,71)" fill-opacity="0.35" stroke="rgb(91,91,91)" stroke-width="1.3" stroke-opacity="0.6" stroke-dasharray="18 10" stroke-dashoffset="5"/>
<path d="M378.6,100.2 L376.2,99.1 L372.9,82.5 L374.0,82.7 L383.6,88.4 L385.3,91.5Z" fill="rgb(60,60,60)" fill-opacity="0.35" stroke="rgb(80,80,80)" stroke-width="1.3" stroke-opacity="0.6" stroke-dasharray="8 11" stroke-dashoffset="17"/>
<path d="M390.5,0.1 L399.5,1.1 L419.4,12.7 L405.6,18.2Z" fill="rgb(75,75,75)" fill-opacity="0.35" stroke="rgb(95,95,95)" stroke-width="1.3" stroke-opacity="0.6" stroke-dasharray="18 9" stroke-dashoffset="10"/>
<path d="M317.5,49.7 L328.7,58.0 L328.3,59.9 L321.6,63.0 L307.8,53.8 L307.0,53.0 L307.4,52.6Z" fill="rgb(75,75,75)" fill-opacity="0.35" stroke="rgb(95,95,95)" stroke-width="1.3" stroke-opacity="0.6" stroke-dasharray="18 8" stroke-dashoffset="8"/>
<path d="M314.9,27.9 L310.7,28.3 L307.4,50.3 L317.5,47.4 L326.0,40.8 L326.0,40.7Z" fill="rgb(62,62,62)" fill-opacity="0.35" stroke="rgb(82,82,82)" stroke-width="1.3" stroke-opacity="0.6" stroke-dasharray="8 9" stroke-dashoffset="7"/>
<path d="M386.8,148.2 L379.9,103.3 L386.6,94.6 L393.7,97.2 L393.9,119.8Z" fill="rgb(74,74,74)" fill-opacity="0.35" stroke="rgb(94,94,94)" stroke-width="1.3" stroke-opacity="0.6" stroke-dasharray="13 4" stroke-dashoffset="2"/>
<path d="M376.6,20.2 L390.6,31.3 L389.2,33.0 L380.3,36.1 L377.2,28.7Z" fill="rgb(75,75,75)" fill-opacity="0.35" stroke="rgb(95,95,95)" stroke-width="1.3" stroke-opacity="0.6" stroke-dasharray="13 7" stroke-dashoffset="4"/>
<path d="M365.7,103.8 L361.5,260.8 L348.3,92.3 L353.0,91.4Z" fill="rgb(67,67,67)" fill-opacity="0.35" stroke="rgb(87,87,87)" stroke-width="1.3" stroke-opacity="0.6" stroke-dasharray="13 4" stroke-dashoffset="2"/>
<path d="M376.7,18.6 L390.7,29.7 L393.6,28.8 L380.7,-1.2 L375.3,16.5Z" fill="rgb(72,72,72)" fill-opacity="0.35" stroke="rgb(92,92,92)" stroke-width="1.3" stroke-opacity="0.6" stroke-dasharray="15 9" stroke-dashoffset="13"/>
<path d="M367.1,38.0 L368.8,40.3 L366.3,49.1 L365.8,49.9 L356.2,46.7 L355.0,38.5 L363.4,34.8Z" fill="rgb(65,65,65)" fill-opacity="0.35" stroke="rgb(85,85,85)" stroke-width="1.3" stroke-opacity="0.6" stroke-dasharray="16 9" stroke-dashoffset="9"/>
</g></g>
<rect x="5.0" y="5.0" width="131.4" height="94.7" filter="url(#noise)" opacity="0.12" style="mix-blend-mode:overlay"/>
<rect x="138.3" y="5.0" width="132.9" height="94.7" filter="url(#noise)" opacity="0.12" style="mix-blend-mode:overlay"/>
<rect x="272.9" y="5.0" width="133.0" height="94.7" filter="url(#noise)" opacity="0.12" style="mix-blend-mode:overlay"/>
<rect x="408.0" y="5.0" width="132.8" height="94.7" filter="url(#noise)" opacity="0.26" style="mix-blend-mode:overlay"/>
<g filter="url(#bl05)">
<circle cx="109.7" cy="19.3" r="6.0" fill="none" stroke="#c6c6c6" stroke-width="1.0"/>
<circle cx="24.6" cy="48.1" r="6.1" fill="none" stroke="#c6c6c6" stroke-width="1.0"/>
<circle cx="11.9" cy="58.2" r="6.1" fill="none" stroke="#c6c6c6" stroke-width="1.0"/>
<circle cx="116.4" cy="73.5" r="6.0" fill="none" stroke="#c6c6c6" stroke-width="1.0"/>
<circle cx="250.4" cy="23.3" r="6.1" fill="none" stroke="#c6c6c6" stroke-width="1.0"/>
<circle cx="151.7" cy="56.2" r="6.4" fill="none" stroke="#c6c6c6" stroke-width="1.0"/>
<circle cx="224.0" cy="63.4" r="6.1" fill="none" stroke="#c6c6c6" stroke-width="1.0"/>
<ellipse cx="110.2" cy="19.6" rx="0.9" ry="1.8" fill="#1a1a1a"/>
<ellipse cx="25.6" cy="48.0" rx="1.9" ry="1.6" fill="#1a1a1a"/>
<ellipse cx="11.8" cy="58.9" rx="2.0" ry="0.9" fill="#1a1a1a"/>
<ellipse cx="116.2" cy="74.0" rx="0.7" ry="1.0" fill="#1a1a1a"/>
<ellipse cx="250.8" cy="22.8" rx="0.9" ry="1.2" fill="#1a1a1a"/>
<ellipse cx="151.2" cy="56.5" rx="0.8" ry="1.6" fill="#1a1a1a"/>
<ellipse cx="224.4" cy="63.8" rx="1.9" ry="1.8" fill="#1a1a1a"/>
<ellipse cx="53.4" cy="18.4" rx="0.9" ry="1.6" fill="#1a1a1a"/>
<ellipse cx="38.9" cy="8.3" rx="0.6" ry="0.8" fill="#1a1a1a"/>
</g>
<text x="7.76" y="19.70" font-size="14.20" fill="#eeeeee" textLength="16.47" lengthAdjust="spacingAndGlyphs">(a)</text>
<text x="8.49" y="95.30" font-size="10.40" font-weight="bold" fill="#f2f2f2" textLength="49.15" lengthAdjust="spacingAndGlyphs">MABr:PbBr</text>
<text x="57.57" y="96.90" font-size="6.80" font-weight="bold" fill="#f2f2f2" textLength="3.70" lengthAdjust="spacingAndGlyphs">2</text>
<text x="61.92" y="95.30" font-size="10.40" font-weight="bold" fill="#f2f2f2" textLength="31.04" lengthAdjust="spacingAndGlyphs">=0.50:1</text>
<text x="112.15" y="91.70" font-size="7.00" fill="#e4e4e4" textLength="14.12" lengthAdjust="spacingAndGlyphs">1μm</text>
<rect x="104.0" y="95.8" width="31.4" height="2.1" fill="#f4f4f4"/>
<text x="141.86" y="19.70" font-size="14.20" fill="#eeeeee" textLength="16.47" lengthAdjust="spacingAndGlyphs">(b)</text>
<text x="142.59" y="95.30" font-size="10.40" font-weight="bold" fill="#f2f2f2" textLength="49.15" lengthAdjust="spacingAndGlyphs">MABr:PbBr</text>
<text x="191.67" y="96.90" font-size="6.80" font-weight="bold" fill="#f2f2f2" textLength="3.70" lengthAdjust="spacingAndGlyphs">2</text>
<text x="196.02" y="95.30" font-size="10.40" font-weight="bold" fill="#f2f2f2" textLength="31.04" lengthAdjust="spacingAndGlyphs">=0.75:1</text>
<text x="246.25" y="91.70" font-size="7.00" fill="#e4e4e4" textLength="14.12" lengthAdjust="spacingAndGlyphs">1μm</text>
<rect x="238.1" y="95.8" width="31.4" height="2.1" fill="#f4f4f4"/>
<text x="276.42" y="19.70" font-size="14.20" fill="#eeeeee" textLength="16.56" lengthAdjust="spacingAndGlyphs">(c)</text>
<text x="277.19" y="95.30" font-size="10.40" font-weight="bold" fill="#f2f2f2" textLength="49.15" lengthAdjust="spacingAndGlyphs">MABr:PbBr</text>
<text x="326.27" y="96.90" font-size="6.80" font-weight="bold" fill="#f2f2f2" textLength="3.70" lengthAdjust="spacingAndGlyphs">2</text>
<text x="330.62" y="95.30" font-size="10.40" font-weight="bold" fill="#f2f2f2" textLength="31.04" lengthAdjust="spacingAndGlyphs">=1.00:1</text>
<text x="380.85" y="91.70" font-size="7.00" fill="#e4e4e4" textLength="14.12" lengthAdjust="spacingAndGlyphs">1μm</text>
<rect x="372.7" y="95.8" width="31.4" height="2.1" fill="#f4f4f4"/>
<text x="410.76" y="19.70" font-size="14.20" fill="#eeeeee" textLength="16.47" lengthAdjust="spacingAndGlyphs">(d)</text>
<text x="411.49" y="95.30" font-size="10.40" font-weight="bold" fill="#f2f2f2" textLength="49.15" lengthAdjust="spacingAndGlyphs">MABr:PbBr</text>
<text x="460.57" y="96.90" font-size="6.80" font-weight="bold" fill="#f2f2f2" textLength="3.70" lengthAdjust="spacingAndGlyphs">2</text>
<text x="464.92" y="95.30" font-size="10.40" font-weight="bold" fill="#f2f2f2" textLength="31.04" lengthAdjust="spacingAndGlyphs">=1.25:1</text>
<text x="515.15" y="91.70" font-size="7.00" fill="#e4e4e4" textLength="14.12" lengthAdjust="spacingAndGlyphs">1μm</text>
<rect x="507.0" y="95.8" width="31.4" height="2.1" fill="#f4f4f4"/>
<rect x="46.7" y="178.9" width="42.4" height="94.7" fill="#e2e2e2"/>
<g fill="none" stroke-width="1.1" stroke-linejoin="round">
<path d="M46.10,185.98 L46.45,186.09 L46.80,185.97 L47.15,185.98 L47.50,185.77 L47.85,185.88 L48.20,186.17 L48.55,185.97 L48.90,185.93 L49.25,185.95 L49.60,186.23 L49.95,186.15 L50.30,185.88 L50.65,185.93 L51.00,186.18 L51.35,186.02 L51.70,185.83 L52.05,185.76 L52.40,186.04 L52.75,186.00 L53.10,186.07 L53.45,185.82 L53.80,186.05 L54.15,185.97 L54.50,185.84 L54.85,186.17 L55.20,185.95 L55.55,185.91 L55.90,185.76 L56.25,186.10 L56.60,185.87 L56.95,185.77 L57.30,185.99 L57.65,186.20 L58.00,186.19 L58.35,185.86 L58.70,185.94 L59.05,185.84 L59.40,185.91 L59.75,185.80 L60.10,186.19 L60.45,186.03 L60.80,186.14 L61.15,185.87 L61.50,186.20 L61.85,186.14 L62.20,185.98 L62.55,185.91 L62.90,185.42 L63.25,185.12 L63.60,184.49 L63.95,184.38 L64.30,184.66 L64.65,184.53 L65.00,184.75 L65.35,185.29 L65.70,185.40 L66.05,185.86 L66.40,185.70 L66.75,186.04 L67.10,185.73 L67.45,185.98 L67.80,185.98 L68.15,185.83 L68.50,185.99 L68.85,185.91 L69.20,186.19 L69.55,186.12 L69.90,185.91 L70.25,185.98 L70.60,185.92 L70.95,186.07 L71.30,185.94 L71.65,186.12 L72.00,186.06 L72.35,185.94 L72.70,186.22 L73.05,185.84 L73.40,185.95 L73.75,186.00 L74.10,186.02 L74.45,186.02 L74.80,186.14 L75.15,185.95 L75.50,186.17 L75.85,186.18 L76.20,185.94 L76.55,186.22 L76.90,185.93 L77.25,185.84 L77.60,186.15 L77.95,185.97 L78.30,185.97 L78.65,186.10 L79.00,185.92 L79.35,186.16 L79.70,186.00 L80.05,186.12 L80.40,186.20 L80.75,186.09 L81.10,186.22 L81.45,185.77 L81.80,185.83 L82.15,186.12 L82.50,186.16 L82.85,185.79 L83.20,186.09 L83.55,186.07 L83.90,185.90 L84.25,186.04 L84.60,186.14 L84.95,185.76 L85.30,186.04 L85.65,185.75 L86.00,185.96 L86.35,186.15 L86.70,186.01 L87.05,186.12 L87.40,185.48 L87.75,185.33 L88.10,185.26 L88.45,184.88 L88.80,184.16 L89.15,183.92 L89.50,184.07 L89.85,184.61 L90.20,184.76 L90.55,185.41 L90.90,185.86 L91.25,186.03 L91.60,185.73 L91.95,186.19 L92.30,185.78 L92.65,185.87 L93.00,185.84 L93.35,186.16 L93.70,186.00 L94.05,185.99 L94.40,186.19 L94.75,185.90 L95.10,186.18 L95.45,186.13 L95.80,185.98 L96.15,186.06 L96.50,185.76 L96.85,186.15 L97.20,186.04 L97.55,186.17 L97.90,185.80 L98.25,186.22 L98.60,185.87 L98.95,185.80 L99.30,185.95 L99.65,186.16 L100.00,186.09 L100.35,185.80 L100.70,185.99 L101.05,186.08 L101.40,186.10 L101.75,185.95 L102.10,186.08 L102.45,186.13 L102.80,185.89 L103.15,186.22 L103.50,185.97 L103.85,185.93 L104.20,185.80 L104.55,185.75 L104.90,185.89 L105.25,186.06 L105.60,185.91 L105.95,185.83 L106.30,186.11 L106.65,186.17 L107.00,186.01 L107.35,185.77 L107.70,185.87 L108.05,185.38 L108.40,185.48 L108.75,185.28 L109.10,185.60 L109.45,185.32 L109.80,185.54 L110.15,185.77 L110.50,185.76 L110.85,185.85 L111.20,186.10 L111.55,185.84 L111.90,185.85 L112.25,186.18 L112.60,186.11 L112.95,185.98 L113.30,186.10 L113.65,186.17 L114.00,185.93 L114.35,185.84 L114.70,186.06 L115.05,185.95 L115.40,186.19 L115.75,186.24 L116.10,185.98 L116.45,186.04 L116.80,185.76 L117.15,186.22 L117.50,185.76 L117.85,186.19 L118.20,185.76 L118.55,185.82 L118.90,186.00 L119.25,185.78 L119.60,185.98 L119.95,185.84 L120.30,185.85 L120.65,185.99 L121.00,185.76 L121.35,185.98 L121.70,185.84 L122.05,186.13 L122.40,185.80 L122.75,185.93 L123.10,186.13 L123.45,185.82 L123.80,185.59 L124.15,185.58 L124.50,185.58 L124.85,185.21 L125.20,185.24 L125.55,185.56 L125.90,185.62 L126.25,185.93 L126.60,185.80 L126.95,186.13 L127.30,185.94 L127.65,186.22 L128.00,185.85 L128.35,186.22 L128.70,185.88 L129.05,185.75 L129.40,185.93 L129.75,185.92 L130.10,186.16 L130.45,186.12 L130.80,186.21 L131.15,186.00 L131.50,185.75 L131.85,186.05 L132.20,185.81 L132.55,185.75 L132.90,186.21 L133.25,185.74 L133.60,186.23 L133.95,186.13 L134.30,185.91 L134.65,186.21 L135.00,185.91 L135.35,186.00 L135.70,185.97 L136.05,185.83 L136.40,185.83 L136.75,186.10 L137.10,185.97 L137.45,185.66 L137.80,185.40 L138.15,184.68 L138.50,183.92 L138.85,183.48 L139.20,183.02 L139.55,183.23 L139.90,183.56 L140.25,184.08 L140.60,184.71 L140.95,185.66 L141.30,185.54 L141.65,185.98 L142.00,185.95 L142.35,186.18 L142.70,186.09 L143.05,186.14 L143.40,185.93 L143.75,186.10 L144.10,185.90 L144.45,185.80 L144.80,185.74 L145.15,185.76 L145.50,185.98 L145.85,185.76 L146.20,186.14 L146.55,185.96 L146.90,185.99 L147.25,186.11 L147.60,186.16 L147.95,186.22 L148.30,185.99 L148.65,185.91 L149.00,186.04 L149.35,185.86 L149.70,185.72 L150.05,185.69 L150.40,185.91 L150.75,185.30 L151.10,185.25 L151.45,184.58 L151.80,183.95 L152.15,183.55 L152.50,183.52 L152.85,183.97 L153.20,184.51 L153.55,184.83 L153.90,185.20 L154.25,185.69 L154.60,185.72 L154.95,185.90 L155.30,186.00 L155.65,185.86 L156.00,185.88 L156.35,186.03 L156.70,185.79 L157.05,185.80 L157.40,186.13 L157.75,186.11 L158.10,185.87 L158.45,185.96 L158.80,185.78 L159.15,185.76 L159.50,185.99 L159.85,186.12 L160.20,186.16 L160.55,185.97 L160.90,185.90 L161.25,185.92 L161.60,186.07 L161.95,186.21 L162.30,185.94 L162.65,185.77 L163.00,185.85 L163.35,185.76 L163.70,185.90 L164.05,186.05 L164.40,186.02 L164.75,185.76 L165.10,185.95 L165.45,185.95 L165.80,186.19 L166.15,185.99 L166.50,186.22 L166.85,186.11 L167.20,186.09 L167.55,185.80 L167.90,186.06 L168.25,185.80 L168.60,186.16 L168.95,186.18 L169.30,186.21 L169.65,186.23 L170.00,186.09 L170.35,185.95 L170.70,186.23 L171.05,185.97 L171.40,185.88 L171.75,186.01 L172.10,185.82 L172.45,185.97 L172.80,185.81 L173.15,185.79 L173.50,186.06 L173.85,186.02 L174.20,185.84 L174.55,185.65 L174.90,185.17 L175.25,184.91 L175.60,184.20 L175.95,183.80 L176.30,183.19 L176.65,183.31 L177.00,183.44 L177.35,184.06 L177.70,184.86 L178.05,185.16 L178.40,185.51 L178.75,185.97 L179.10,185.88 L179.45,185.79 L179.80,185.72 L180.15,185.77 L180.50,185.78 L180.85,185.87 L181.20,185.92 L181.55,186.19 L181.90,186.03 L182.25,186.19 L182.60,185.73 L182.95,185.91 L183.30,185.79 L183.65,185.96 L184.00,185.74 L184.35,185.96 L184.70,186.09 L185.05,185.60 L185.40,185.76 L185.75,185.21 L186.10,184.81 L186.45,184.08 L186.80,183.66 L187.15,183.17 L187.50,183.32 L187.85,183.91 L188.20,184.43 L188.55,184.92 L188.90,185.49 L189.25,185.70 L189.60,186.01 L189.95,185.83 L190.30,186.08 L190.65,186.09 L191.00,185.88 L191.35,186.16 L191.70,186.21 L192.05,185.89 L192.40,186.16 L192.75,185.80 L193.10,186.04 L193.45,185.77 L193.80,186.05 L194.15,185.83 L194.50,186.03 L194.85,185.82 L195.20,185.80 L195.55,185.95 L195.90,186.03 L196.25,185.93 L196.60,186.09 L196.95,185.88 L197.30,185.98 L197.65,186.04 L198.00,185.91 L198.35,186.04 L198.70,185.86 L199.05,185.97 L199.40,186.03 L199.75,186.06 L200.10,186.04 L200.45,186.10 L200.80,186.13 L201.15,186.11 L201.50,185.92 L201.85,186.09 L202.20,185.92 L202.55,186.24 L202.90,185.90 L203.25,185.84 L203.60,186.05 L203.95,185.86 L204.30,186.25 L204.65,186.11 L205.00,185.87 L205.35,185.97 L205.70,185.88 L206.05,185.81 L206.40,185.91 L206.75,186.14 L207.10,185.84 L207.45,186.06 L207.80,186.01 L208.15,186.24 L208.50,185.77 L208.85,185.96 L209.20,186.02 L209.55,186.05 L209.90,185.89 L210.25,185.87 L210.60,185.94 L210.95,185.85 L211.30,185.78 L211.65,186.00 L212.00,185.77 L212.35,185.99 L212.70,185.80 L213.05,186.11 L213.40,185.94 L213.75,186.02 L214.10,185.75 L214.45,185.93 L214.80,185.92 L215.15,185.95 L215.50,186.16 L215.85,186.01 L216.20,185.64 L216.55,185.73 L216.90,185.51 L217.25,185.22 L217.60,185.18 L217.95,185.18 L218.30,185.73 L218.65,185.53 L219.00,185.77 L219.35,185.74 L219.70,185.71 L220.05,186.09 L220.40,185.89 L220.75,185.96 L221.10,185.92 L221.45,186.10 L221.80,186.14 L222.15,185.85 L222.50,185.91 L222.85,186.03 L223.20,186.00 L223.55,186.20 L223.90,185.85 L224.25,185.80 L224.60,185.86 L224.95,185.94 L225.30,185.65 L225.65,185.57 L226.00,185.79 L226.35,185.43 L226.70,185.55 L227.05,185.37 L227.40,185.53 L227.75,185.92 L228.10,185.78 L228.45,185.71 L228.80,185.80 L229.15,186.04 L229.50,186.03 L229.85,186.22 L230.20,185.89 L230.55,185.89 L230.90,186.07 L231.25,186.12 L231.60,186.19 L231.95,185.78 L232.30,186.19 L232.65,186.12 L233.00,185.91 L233.35,186.17 L233.70,185.91 L234.05,186.20 L234.40,186.06 L234.75,185.80 L235.10,186.08 L235.45,186.07 L235.80,186.19 L236.15,185.86 L236.50,185.91 L236.85,186.07 L237.20,186.23 L237.55,185.77 L237.90,186.01 L238.25,186.20 L238.60,186.00 L238.95,185.87 L239.30,186.16 L239.65,185.84 L240.00,186.16 L240.35,186.16 L240.70,186.21 L241.05,185.95 L241.40,185.92 L241.75,185.98 L242.10,186.23 L242.45,185.86 L242.80,186.04" stroke="#3aa86a"/>
<path d="M46.10,224.49 L46.45,224.64 L46.80,224.64 L47.15,224.51 L47.50,224.60 L47.85,224.48 L48.20,224.80 L48.55,224.64 L48.90,224.72 L49.25,224.60 L49.60,224.55 L49.95,224.72 L50.30,224.80 L50.65,224.66 L51.00,224.58 L51.35,224.79 L51.70,224.39 L52.05,224.34 L52.40,224.55 L52.75,224.83 L53.10,224.57 L53.45,224.77 L53.80,224.46 L54.15,224.72 L54.50,224.46 L54.85,224.41 L55.20,224.78 L55.55,224.66 L55.90,224.69 L56.25,224.39 L56.60,224.46 L56.95,224.37 L57.30,224.40 L57.65,224.43 L58.00,224.24 L58.35,224.78 L58.70,224.62 L59.05,224.29 L59.40,224.33 L59.75,224.23 L60.10,224.20 L60.45,224.35 L60.80,224.13 L61.15,224.40 L61.50,223.92 L61.85,223.32 L62.20,222.31 L62.55,219.42 L62.90,214.37 L63.25,206.78 L63.60,198.08 L63.95,191.49 L64.30,190.43 L64.65,195.47 L65.00,204.08 L65.35,212.09 L65.70,217.74 L66.05,221.30 L66.40,223.19 L66.75,223.84 L67.10,224.16 L67.45,224.21 L67.80,224.34 L68.15,224.38 L68.50,224.36 L68.85,224.51 L69.20,224.62 L69.55,224.25 L69.90,224.45 L70.25,224.72 L70.60,224.30 L70.95,224.42 L71.30,224.44 L71.65,224.33 L72.00,224.42 L72.35,224.62 L72.70,224.34 L73.05,224.81 L73.40,224.48 L73.75,224.29 L74.10,224.47 L74.45,224.65 L74.80,224.64 L75.15,224.69 L75.50,224.86 L75.85,224.63 L76.20,224.63 L76.55,224.68 L76.90,224.45 L77.25,224.47 L77.60,224.53 L77.95,224.84 L78.30,224.67 L78.65,224.84 L79.00,224.54 L79.35,224.62 L79.70,224.74 L80.05,224.54 L80.40,224.51 L80.75,224.40 L81.10,224.46 L81.45,224.40 L81.80,224.79 L82.15,224.72 L82.50,224.48 L82.85,224.39 L83.20,224.84 L83.55,224.58 L83.90,224.62 L84.25,224.57 L84.60,224.84 L84.95,224.62 L85.30,224.51 L85.65,224.73 L86.00,224.66 L86.35,224.71 L86.70,224.39 L87.05,224.69 L87.40,224.36 L87.75,224.62 L88.10,224.36 L88.45,224.53 L88.80,224.63 L89.15,224.48 L89.50,224.46 L89.85,224.58 L90.20,224.70 L90.55,224.43 L90.90,224.45 L91.25,224.42 L91.60,224.36 L91.95,224.52 L92.30,224.38 L92.65,224.52 L93.00,224.70 L93.35,224.45 L93.70,224.76 L94.05,224.86 L94.40,224.70 L94.75,224.44 L95.10,224.45 L95.45,224.50 L95.80,224.50 L96.15,224.36 L96.50,224.82 L96.85,224.38 L97.20,224.35 L97.55,224.89 L97.90,224.50 L98.25,224.36 L98.60,224.79 L98.95,224.38 L99.30,224.32 L99.65,224.59 L100.00,224.89 L100.35,224.38 L100.70,224.84 L101.05,224.56 L101.40,224.55 L101.75,224.64 L102.10,224.64 L102.45,224.88 L102.80,224.55 L103.15,224.47 L103.50,224.46 L103.85,224.84 L104.20,224.39 L104.55,224.31 L104.90,224.55 L105.25,224.30 L105.60,224.77 L105.95,224.37 L106.30,224.73 L106.65,224.42 L107.00,224.71 L107.35,224.68 L107.70,224.45 L108.05,224.67 L108.40,224.63 L108.75,224.87 L109.10,224.51 L109.45,224.37 L109.80,224.42 L110.15,224.87 L110.50,224.34 L110.85,224.55 L111.20,224.47 L111.55,224.36 L111.90,224.50 L112.25,224.78 L112.60,224.73 L112.95,224.45 L113.30,224.34 L113.65,224.34 L114.00,224.70 L114.35,224.35 L114.70,224.71 L115.05,224.67 L115.40,224.60 L115.75,224.71 L116.10,224.62 L116.45,224.69 L116.80,224.55 L117.15,224.39 L117.50,224.78 L117.85,224.32 L118.20,224.69 L118.55,224.53 L118.90,224.28 L119.25,224.48 L119.60,224.71 L119.95,224.77 L120.30,224.48 L120.65,224.29 L121.00,224.38 L121.35,224.25 L121.70,224.55 L122.05,224.76 L122.40,224.56 L122.75,224.34 L123.10,223.87 L123.45,223.08 L123.80,221.88 L124.15,220.61 L124.50,219.12 L124.85,218.22 L125.20,218.13 L125.55,219.38 L125.90,220.29 L126.25,222.05 L126.60,222.93 L126.95,223.57 L127.30,224.16 L127.65,224.46 L128.00,224.32 L128.35,224.49 L128.70,224.54 L129.05,224.63 L129.40,224.85 L129.75,224.49 L130.10,224.80 L130.45,224.39 L130.80,224.62 L131.15,224.65 L131.50,224.75 L131.85,224.38 L132.20,224.55 L132.55,224.59 L132.90,224.45 L133.25,224.84 L133.60,224.84 L133.95,224.36 L134.30,224.59 L134.65,224.46 L135.00,224.58 L135.35,224.40 L135.70,224.58 L136.05,224.43 L136.40,224.28 L136.75,224.23 L137.10,224.56 L137.45,224.30 L137.80,223.91 L138.15,222.84 L138.50,222.09 L138.85,221.72 L139.20,220.96 L139.55,221.34 L139.90,221.91 L140.25,222.40 L140.60,223.31 L140.95,223.81 L141.30,224.45 L141.65,224.43 L142.00,224.68 L142.35,224.73 L142.70,224.45 L143.05,224.61 L143.40,224.52 L143.75,224.67 L144.10,224.35 L144.45,224.69 L144.80,224.43 L145.15,224.38 L145.50,224.52 L145.85,224.74 L146.20,224.72 L146.55,224.37 L146.90,224.39 L147.25,224.87 L147.60,224.47 L147.95,224.80 L148.30,224.60 L148.65,224.59 L149.00,224.50 L149.35,224.58 L149.70,224.33 L150.05,224.66 L150.40,224.43 L150.75,224.64 L151.10,224.34 L151.45,224.15 L151.80,224.38 L152.15,223.91 L152.50,223.99 L152.85,224.17 L153.20,224.39 L153.55,224.50 L153.90,224.28 L154.25,224.28 L154.60,224.42 L154.95,224.57 L155.30,224.54 L155.65,224.74 L156.00,224.72 L156.35,224.65 L156.70,224.69 L157.05,224.89 L157.40,224.32 L157.75,224.54 L158.10,224.53 L158.45,224.49 L158.80,224.69 L159.15,224.84 L159.50,224.57 L159.85,224.56 L160.20,224.55 L160.55,224.64 L160.90,224.52 L161.25,224.79 L161.60,224.52 L161.95,224.79 L162.30,224.53 L162.65,224.84 L163.00,224.53 L163.35,224.61 L163.70,224.38 L164.05,224.82 L164.40,224.76 L164.75,224.32 L165.10,224.55 L165.45,224.80 L165.80,224.66 L166.15,224.54 L166.50,224.58 L166.85,224.60 L167.20,224.63 L167.55,224.66 L167.90,224.58 L168.25,224.33 L168.60,224.63 L168.95,224.39 L169.30,224.31 L169.65,224.64 L170.00,224.71 L170.35,224.87 L170.70,224.35 L171.05,224.79 L171.40,224.53 L171.75,224.60 L172.10,224.36 L172.45,224.36 L172.80,224.42 L173.15,224.84 L173.50,224.62 L173.85,224.36 L174.20,224.52 L174.55,224.82 L174.90,224.25 L175.25,224.45 L175.60,224.27 L175.95,224.03 L176.30,224.00 L176.65,223.92 L177.00,223.72 L177.35,224.19 L177.70,224.37 L178.05,224.34 L178.40,224.54 L178.75,224.39 L179.10,224.35 L179.45,224.41 L179.80,224.41 L180.15,224.53 L180.50,224.81 L180.85,224.82 L181.20,224.49 L181.55,224.74 L181.90,224.35 L182.25,224.63 L182.60,224.76 L182.95,224.79 L183.30,224.42 L183.65,224.73 L184.00,224.29 L184.35,224.67 L184.70,224.77 L185.05,224.40 L185.40,224.30 L185.75,224.30 L186.10,224.37 L186.45,224.36 L186.80,223.97 L187.15,223.87 L187.50,223.94 L187.85,223.98 L188.20,224.10 L188.55,224.48 L188.90,224.66 L189.25,224.52 L189.60,224.42 L189.95,224.61 L190.30,224.53 L190.65,224.64 L191.00,224.79 L191.35,224.61 L191.70,224.57 L192.05,224.42 L192.40,224.51 L192.75,224.35 L193.10,224.55 L193.45,224.76 L193.80,224.73 L194.15,224.77 L194.50,224.77 L194.85,224.44 L195.20,224.75 L195.55,224.66 L195.90,224.37 L196.25,224.40 L196.60,224.49 L196.95,224.66 L197.30,224.43 L197.65,224.33 L198.00,224.77 L198.35,224.66 L198.70,224.34 L199.05,224.83 L199.40,224.63 L199.75,224.31 L200.10,224.56 L200.45,224.72 L200.80,224.90 L201.15,224.40 L201.50,224.30 L201.85,224.77 L202.20,224.52 L202.55,224.81 L202.90,224.47 L203.25,224.81 L203.60,224.42 L203.95,224.58 L204.30,224.58 L204.65,224.72 L205.00,224.74 L205.35,224.86 L205.70,224.50 L206.05,224.64 L206.40,224.62 L206.75,224.31 L207.10,224.34 L207.45,224.48 L207.80,224.44 L208.15,224.62 L208.50,224.70 L208.85,224.40 L209.20,224.74 L209.55,224.88 L209.90,224.49 L210.25,224.52 L210.60,224.30 L210.95,224.43 L211.30,224.50 L211.65,224.31 L212.00,224.67 L212.35,224.89 L212.70,224.40 L213.05,224.68 L213.40,224.60 L213.75,224.51 L214.10,224.59 L214.45,224.30 L214.80,224.58 L215.15,224.56 L215.50,224.69 L215.85,224.74 L216.20,224.36 L216.55,224.76 L216.90,224.70 L217.25,224.42 L217.60,224.36 L217.95,224.35 L218.30,224.50 L218.65,224.78 L219.00,224.33 L219.35,224.56 L219.70,224.37 L220.05,224.83 L220.40,224.73 L220.75,224.50 L221.10,224.57 L221.45,224.89 L221.80,224.48 L222.15,224.49 L222.50,224.87 L222.85,224.82 L223.20,224.72 L223.55,224.69 L223.90,224.31 L224.25,224.75 L224.60,224.56 L224.95,224.72 L225.30,224.51 L225.65,224.61 L226.00,224.55 L226.35,224.58 L226.70,224.67 L227.05,224.85 L227.40,224.48 L227.75,224.68 L228.10,224.35 L228.45,224.75 L228.80,224.63 L229.15,224.50 L229.50,224.78 L229.85,224.44 L230.20,224.84 L230.55,224.62 L230.90,224.47 L231.25,224.51 L231.60,224.75 L231.95,224.40 L232.30,224.52 L232.65,224.41 L233.00,224.53 L233.35,224.48 L233.70,224.57 L234.05,224.88 L234.40,224.61 L234.75,224.79 L235.10,224.85 L235.45,224.68 L235.80,224.30 L236.15,224.74 L236.50,224.56 L236.85,224.33 L237.20,224.68 L237.55,224.62 L237.90,224.79 L238.25,224.45 L238.60,224.83 L238.95,224.62 L239.30,224.75 L239.65,224.77 L240.00,224.74 L240.35,224.81 L240.70,224.90 L241.05,224.35 L241.40,224.71 L241.75,224.79 L242.10,224.77 L242.45,224.54 L242.80,224.40" stroke="#2a6dd8"/>
<path d="M46.10,258.17 L46.45,258.10 L46.80,258.22 L47.15,258.19 L47.50,257.87 L47.85,258.23 L48.20,258.21 L48.55,258.05 L48.90,257.86 L49.25,258.07 L49.60,257.79 L49.95,257.92 L50.30,257.83 L50.65,257.99 L51.00,257.78 L51.35,257.89 L51.70,257.88 L52.05,258.03 L52.40,258.18 L52.75,258.04 L53.10,258.12 L53.45,257.81 L53.80,257.95 L54.15,258.00 L54.50,257.87 L54.85,258.21 L55.20,257.95 L55.55,257.83 L55.90,257.81 L56.25,257.72 L56.60,258.14 L56.95,257.73 L57.30,258.10 L57.65,257.77 L58.00,257.91 L58.35,257.82 L58.70,257.74 L59.05,257.82 L59.40,258.03 L59.75,257.84 L60.10,257.83 L60.45,257.81 L60.80,257.50 L61.15,257.68 L61.50,257.57 L61.85,256.94 L62.20,255.95 L62.55,253.51 L62.90,248.98 L63.25,242.69 L63.60,235.03 L63.95,229.25 L64.30,228.33 L64.65,232.97 L65.00,240.09 L65.35,247.13 L65.70,252.24 L66.05,255.06 L66.40,256.84 L66.75,257.52 L67.10,257.41 L67.45,257.93 L67.80,257.74 L68.15,257.75 L68.50,257.60 L68.85,258.10 L69.20,258.03 L69.55,257.85 L69.90,257.68 L70.25,258.01 L70.60,257.89 L70.95,257.81 L71.30,257.73 L71.65,257.91 L72.00,258.17 L72.35,258.18 L72.70,257.80 L73.05,258.17 L73.40,257.89 L73.75,257.92 L74.10,257.73 L74.45,257.84 L74.80,258.02 L75.15,258.21 L75.50,257.84 L75.85,258.20 L76.20,257.92 L76.55,258.08 L76.90,257.87 L77.25,257.81 L77.60,257.91 L77.95,258.10 L78.30,257.86 L78.65,257.81 L79.00,257.87 L79.35,257.81 L79.70,258.17 L80.05,258.23 L80.40,258.12 L80.75,258.00 L81.10,258.15 L81.45,257.96 L81.80,258.18 L82.15,258.12 L82.50,257.94 L82.85,257.87 L83.20,257.93 L83.55,258.03 L83.90,257.79 L84.25,257.93 L84.60,257.80 L84.95,258.18 L85.30,258.07 L85.65,257.92 L86.00,258.14 L86.35,257.87 L86.70,258.16 L87.05,258.09 L87.40,258.07 L87.75,258.07 L88.10,258.13 L88.45,257.82 L88.80,257.92 L89.15,257.78 L89.50,258.24 L89.85,257.91 L90.20,258.05 L90.55,258.14 L90.90,258.11 L91.25,257.84 L91.60,258.09 L91.95,257.94 L92.30,258.16 L92.65,258.07 L93.00,257.85 L93.35,257.86 L93.70,258.18 L94.05,257.88 L94.40,257.87 L94.75,258.20 L95.10,257.81 L95.45,258.12 L95.80,258.00 L96.15,258.23 L96.50,257.76 L96.85,258.19 L97.20,257.95 L97.55,258.17 L97.90,258.22 L98.25,258.16 L98.60,258.02 L98.95,258.22 L99.30,257.90 L99.65,257.93 L100.00,258.12 L100.35,257.81 L100.70,258.20 L101.05,257.83 L101.40,258.24 L101.75,258.13 L102.10,258.08 L102.45,257.88 L102.80,257.87 L103.15,258.09 L103.50,258.04 L103.85,258.14 L104.20,257.99 L104.55,257.84 L104.90,257.93 L105.25,258.24 L105.60,258.08 L105.95,258.18 L106.30,258.03 L106.65,257.96 L107.00,257.81 L107.35,257.94 L107.70,257.95 L108.05,257.90 L108.40,258.07 L108.75,258.04 L109.10,258.18 L109.45,257.98 L109.80,257.84 L110.15,258.09 L110.50,257.97 L110.85,258.11 L111.20,257.88 L111.55,257.78 L111.90,257.86 L112.25,258.02 L112.60,257.89 L112.95,258.07 L113.30,257.87 L113.65,258.09 L114.00,258.20 L114.35,258.18 L114.70,257.77 L115.05,257.78 L115.40,258.03 L115.75,257.82 L116.10,258.06 L116.45,258.07 L116.80,257.80 L117.15,257.92 L117.50,258.01 L117.85,257.79 L118.20,257.94 L118.55,258.00 L118.90,257.76 L119.25,257.80 L119.60,257.90 L119.95,257.93 L120.30,258.19 L120.65,258.13 L121.00,257.79 L121.35,257.78 L121.70,257.77 L122.05,258.08 L122.40,258.04 L122.75,258.09 L123.10,257.67 L123.45,257.51 L123.80,257.50 L124.15,256.85 L124.50,256.69 L124.85,256.53 L125.20,256.24 L125.55,256.51 L125.90,256.99 L126.25,257.30 L126.60,257.71 L126.95,258.00 L127.30,257.77 L127.65,257.85 L128.00,258.06 L128.35,258.17 L128.70,258.05 L129.05,257.82 L129.40,258.05 L129.75,257.96 L130.10,258.13 L130.45,257.86 L130.80,257.80 L131.15,257.83 L131.50,257.81 L131.85,258.22 L132.20,257.90 L132.55,257.85 L132.90,258.13 L133.25,258.21 L133.60,257.89 L133.95,257.96 L134.30,257.99 L134.65,257.86 L135.00,257.94 L135.35,258.16 L135.70,258.05 L136.05,258.04 L136.40,257.80 L136.75,258.04 L137.10,258.11 L137.45,257.84 L137.80,257.47 L138.15,257.42 L138.50,257.33 L138.85,257.07 L139.20,256.95 L139.55,256.52 L139.90,256.92 L140.25,257.44 L140.60,257.56 L140.95,257.93 L141.30,257.70 L141.65,257.72 L142.00,257.95 L142.35,258.14 L142.70,257.82 L143.05,257.90 L143.40,258.04 L143.75,258.20 L144.10,257.91 L144.45,258.20 L144.80,257.97 L145.15,257.78 L145.50,258.20 L145.85,258.15 L146.20,257.93 L146.55,258.03 L146.90,257.76 L147.25,257.93 L147.60,257.76 L147.95,257.84 L148.30,257.81 L148.65,258.18 L149.00,258.09 L149.35,258.06 L149.70,257.98 L150.05,257.75 L150.40,258.21 L150.75,257.96 L151.10,258.20 L151.45,257.77 L151.80,257.92 L152.15,258.17 L152.50,257.92 L152.85,258.07 L153.20,257.78 L153.55,258.14 L153.90,257.90 L154.25,258.12 L154.60,257.94 L154.95,257.94 L155.30,257.79 L155.65,258.04 L156.00,257.99 L156.35,258.00 L156.70,257.79 L157.05,257.90 L157.40,257.78 L157.75,258.19 L158.10,258.11 L158.45,258.02 L158.80,257.91 L159.15,257.87 L159.50,257.86 L159.85,258.11 L160.20,257.95 L160.55,258.23 L160.90,258.07 L161.25,257.89 L161.60,258.10 L161.95,258.22 L162.30,257.83 L162.65,258.09 L163.00,258.08 L163.35,258.03 L163.70,257.87 L164.05,258.00 L164.40,257.98 L164.75,258.12 L165.10,257.96 L165.45,258.15 L165.80,258.12 L166.15,258.01 L166.50,257.90 L166.85,257.95 L167.20,257.94 L167.55,258.23 L167.90,257.79 L168.25,258.16 L168.60,258.06 L168.95,257.91 L169.30,257.80 L169.65,258.21 L170.00,257.94 L170.35,257.96 L170.70,258.10 L171.05,257.90 L171.40,258.25 L171.75,257.98 L172.10,258.03 L172.45,258.05 L172.80,257.99 L173.15,258.18 L173.50,258.04 L173.85,258.11 L174.20,257.86 L174.55,257.97 L174.90,257.76 L175.25,258.19 L175.60,258.24 L175.95,258.09 L176.30,257.90 L176.65,257.82 L177.00,258.19 L177.35,258.11 L177.70,257.77 L178.05,257.96 L178.40,257.94 L178.75,258.15 L179.10,258.18 L179.45,257.96 L179.80,257.76 L180.15,258.13 L180.50,257.94 L180.85,258.18 L181.20,257.97 L181.55,257.87 L181.90,258.17 L182.25,258.09 L182.60,258.07 L182.95,257.81 L183.30,258.03 L183.65,258.20 L184.00,258.20 L184.35,258.21 L184.70,258.12 L185.05,257.92 L185.40,257.76 L185.75,257.93 L186.10,257.77 L186.45,258.17 L186.80,257.89 L187.15,257.91 L187.50,257.75 L187.85,257.94 L188.20,258.11 L188.55,258.20 L188.90,258.19 L189.25,258.22 L189.60,257.75 L189.95,257.87 L190.30,257.91 L190.65,257.99 L191.00,257.99 L191.35,257.95 L191.70,257.94 L192.05,257.76 L192.40,257.98 L192.75,258.23 L193.10,258.03 L193.45,258.08 L193.80,257.87 L194.15,257.97 L194.50,258.00 L194.85,257.78 L195.20,258.18 L195.55,257.87 L195.90,257.76 L196.25,258.10 L196.60,257.91 L196.95,258.14 L197.30,257.77 L197.65,257.86 L198.00,257.79 L198.35,257.81 L198.70,258.08 L199.05,258.10 L199.40,257.94 L199.75,258.17 L200.10,258.16 L200.45,257.84 L200.80,258.22 L201.15,257.93 L201.50,258.03 L201.85,258.20 L202.20,258.20 L202.55,257.84 L202.90,257.79 L203.25,258.17 L203.60,257.93 L203.95,257.80 L204.30,258.23 L204.65,257.98 L205.00,257.90 L205.35,257.98 L205.70,257.89 L206.05,257.80 L206.40,257.78 L206.75,257.80 L207.10,257.79 L207.45,258.19 L207.80,257.87 L208.15,257.91 L208.50,258.07 L208.85,257.84 L209.20,258.24 L209.55,258.12 L209.90,258.14 L210.25,258.01 L210.60,258.10 L210.95,258.18 L211.30,257.85 L211.65,258.07 L212.00,257.91 L212.35,258.21 L212.70,257.87 L213.05,258.08 L213.40,257.84 L213.75,258.11 L214.10,257.87 L214.45,257.89 L214.80,257.90 L215.15,257.94 L215.50,258.25 L215.85,257.94 L216.20,258.02 L216.55,257.92 L216.90,258.04 L217.25,258.03 L217.60,258.20 L217.95,257.80 L218.30,257.92 L218.65,258.11 L219.00,258.10 L219.35,257.88 L219.70,258.22 L220.05,257.86 L220.40,257.97 L220.75,258.11 L221.10,258.10 L221.45,258.23 L221.80,258.16 L222.15,257.99 L222.50,257.81 L222.85,258.00 L223.20,257.84 L223.55,258.08 L223.90,257.78 L224.25,257.78 L224.60,258.06 L224.95,257.75 L225.30,257.87 L225.65,257.93 L226.00,257.88 L226.35,258.05 L226.70,258.09 L227.05,258.25 L227.40,257.91 L227.75,258.24 L228.10,258.05 L228.45,258.01 L228.80,258.10 L229.15,258.19 L229.50,257.96 L229.85,258.10 L230.20,258.15 L230.55,257.87 L230.90,258.24 L231.25,257.81 L231.60,258.03 L231.95,258.14 L232.30,258.17 L232.65,258.01 L233.00,257.99 L233.35,257.88 L233.70,257.91 L234.05,257.85 L234.40,257.95 L234.75,258.12 L235.10,258.20 L235.45,257.81 L235.80,257.96 L236.15,258.14 L236.50,258.22 L236.85,258.11 L237.20,257.83 L237.55,258.00 L237.90,257.87 L238.25,257.91 L238.60,257.96 L238.95,258.23 L239.30,257.95 L239.65,257.76 L240.00,258.17 L240.35,258.03 L240.70,257.89 L241.05,258.23 L241.40,257.83 L241.75,258.17 L242.10,257.76 L242.45,258.12 L242.80,257.84" stroke="#e6404e"/>
<path d="M46.10,269.41 L46.45,269.34 L46.80,269.13 L47.15,269.10 L47.50,269.26 L47.85,269.37 L48.20,269.31 L48.55,269.29 L48.90,269.13 L49.25,269.41 L49.60,269.35 L49.95,269.30 L50.30,269.11 L50.65,269.33 L51.00,269.32 L51.35,269.42 L51.70,269.33 L52.05,269.34 L52.40,269.36 L52.75,269.35 L53.10,269.40 L53.45,269.39 L53.80,269.30 L54.15,269.37 L54.50,269.16 L54.85,269.23 L55.20,269.13 L55.55,269.42 L55.90,269.19 L56.25,269.31 L56.60,269.22 L56.95,269.33 L57.30,269.10 L57.65,269.31 L58.00,269.15 L58.35,269.46 L58.70,269.12 L59.05,269.26 L59.40,269.20 L59.75,269.27 L60.10,269.27 L60.45,269.17 L60.80,269.15 L61.15,269.02 L61.50,268.83 L61.85,268.89 L62.20,268.34 L62.55,268.25 L62.90,267.70 L63.25,267.12 L63.60,266.10 L63.95,265.37 L64.30,265.52 L64.65,266.25 L65.00,267.16 L65.35,268.20 L65.70,268.85 L66.05,269.15 L66.40,269.15 L66.75,269.19 L67.10,269.34 L67.45,269.30 L67.80,269.41 L68.15,269.25 L68.50,269.12 L68.85,269.32 L69.20,269.15 L69.55,269.21 L69.90,269.11 L70.25,269.49 L70.60,269.29 L70.95,269.40 L71.30,269.20 L71.65,269.47 L72.00,269.38 L72.35,269.10 L72.70,269.10 L73.05,269.28 L73.40,269.22 L73.75,269.36 L74.10,269.43 L74.45,269.27 L74.80,269.14 L75.15,269.33 L75.50,269.15 L75.85,269.43 L76.20,269.17 L76.55,269.15 L76.90,269.34 L77.25,269.39 L77.60,269.33 L77.95,269.17 L78.30,269.17 L78.65,269.28 L79.00,269.43 L79.35,269.48 L79.70,269.29 L80.05,269.46 L80.40,269.37 L80.75,269.23 L81.10,269.22 L81.45,269.35 L81.80,269.41 L82.15,269.24 L82.50,269.33 L82.85,269.35 L83.20,269.40 L83.55,269.25 L83.90,269.24 L84.25,269.21 L84.60,269.46 L84.95,269.46 L85.30,269.39 L85.65,269.27 L86.00,269.24 L86.35,269.45 L86.70,269.28 L87.05,269.13 L87.40,269.10 L87.75,269.37 L88.10,269.28 L88.45,269.44 L88.80,269.31 L89.15,269.24 L89.50,269.47 L89.85,269.24 L90.20,269.40 L90.55,269.16 L90.90,269.46 L91.25,269.12 L91.60,269.12 L91.95,269.21 L92.30,269.28 L92.65,269.28 L93.00,269.47 L93.35,269.39 L93.70,269.10 L94.05,269.43 L94.40,269.44 L94.75,269.18 L95.10,269.33 L95.45,269.28 L95.80,269.47 L96.15,269.32 L96.50,269.19 L96.85,269.42 L97.20,269.26 L97.55,269.24 L97.90,269.42 L98.25,269.35 L98.60,269.30 L98.95,269.37 L99.30,269.44 L99.65,269.30 L100.00,269.41 L100.35,269.18 L100.70,269.50 L101.05,269.13 L101.40,269.39 L101.75,269.39 L102.10,269.28 L102.45,269.36 L102.80,269.15 L103.15,269.43 L103.50,269.46 L103.85,269.27 L104.20,269.25 L104.55,269.29 L104.90,269.19 L105.25,269.29 L105.60,269.45 L105.95,269.13 L106.30,269.19 L106.65,269.25 L107.00,269.11 L107.35,269.28 L107.70,269.43 L108.05,269.48 L108.40,269.37 L108.75,269.38 L109.10,269.12 L109.45,269.14 L109.80,269.30 L110.15,269.29 L110.50,269.35 L110.85,269.23 L111.20,269.34 L111.55,269.15 L111.90,269.34 L112.25,269.35 L112.60,269.24 L112.95,269.47 L113.30,269.37 L113.65,269.32 L114.00,269.44 L114.35,269.38 L114.70,269.44 L115.05,269.45 L115.40,269.29 L115.75,269.32 L116.10,269.25 L116.45,269.31 L116.80,269.27 L117.15,269.13 L117.50,269.48 L117.85,269.22 L118.20,269.22 L118.55,269.44 L118.90,269.22 L119.25,269.33 L119.60,269.14 L119.95,269.23 L120.30,269.33 L120.65,269.42 L121.00,269.29 L121.35,269.12 L121.70,269.27 L122.05,269.38 L122.40,269.12 L122.75,269.27 L123.10,268.75 L123.45,268.50 L123.80,267.72 L124.15,266.85 L124.50,266.47 L124.85,266.51 L125.20,266.91 L125.55,267.71 L125.90,268.70 L126.25,269.05 L126.60,269.16 L126.95,269.32 L127.30,269.28 L127.65,269.22 L128.00,269.32 L128.35,269.46 L128.70,269.10 L129.05,269.36 L129.40,269.30 L129.75,269.28 L130.10,269.25 L130.45,269.32 L130.80,269.23 L131.15,269.38 L131.50,269.43 L131.85,269.44 L132.20,269.31 L132.55,269.11 L132.90,269.46 L133.25,269.24 L133.60,269.15 L133.95,269.16 L134.30,269.26 L134.65,269.37 L135.00,269.21 L135.35,269.20 L135.70,269.38 L136.05,269.34 L136.40,269.13 L136.75,268.96 L137.10,268.95 L137.45,268.55 L137.80,267.81 L138.15,266.82 L138.50,265.58 L138.85,264.41 L139.20,263.93 L139.55,263.99 L139.90,265.05 L140.25,266.19 L140.60,267.52 L140.95,268.16 L141.30,268.65 L141.65,269.13 L142.00,269.12 L142.35,269.29 L142.70,269.40 L143.05,269.06 L143.40,269.23 L143.75,269.28 L144.10,269.11 L144.45,269.11 L144.80,269.41 L145.15,269.27 L145.50,269.18 L145.85,269.31 L146.20,269.40 L146.55,269.30 L146.90,269.12 L147.25,269.27 L147.60,269.40 L147.95,269.27 L148.30,269.37 L148.65,269.46 L149.00,269.27 L149.35,269.30 L149.70,269.32 L150.05,269.17 L150.40,269.19 L150.75,268.61 L151.10,268.57 L151.45,267.80 L151.80,267.54 L152.15,266.92 L152.50,266.98 L152.85,267.23 L153.20,267.80 L153.55,268.23 L153.90,268.64 L154.25,268.95 L154.60,269.03 L154.95,269.09 L155.30,269.06 L155.65,269.23 L156.00,269.40 L156.35,269.41 L156.70,269.32 L157.05,269.24 L157.40,269.41 L157.75,269.18 L158.10,269.41 L158.45,269.25 L158.80,269.10 L159.15,269.19 L159.50,269.37 L159.85,269.19 L160.20,269.37 L160.55,269.34 L160.90,269.11 L161.25,269.23 L161.60,269.32 L161.95,269.45 L162.30,269.12 L162.65,269.34 L163.00,269.39 L163.35,269.18 L163.70,269.48 L164.05,269.45 L164.40,269.14 L164.75,269.45 L165.10,269.20 L165.45,269.40 L165.80,269.43 L166.15,269.11 L166.50,269.18 L166.85,269.33 L167.20,269.25 L167.55,269.49 L167.90,269.35 L168.25,269.10 L168.60,269.27 L168.95,269.20 L169.30,269.18 L169.65,269.35 L170.00,269.47 L170.35,269.36 L170.70,269.42 L171.05,269.36 L171.40,269.27 L171.75,269.38 L172.10,269.41 L172.45,269.43 L172.80,269.22 L173.15,269.23 L173.50,269.22 L173.85,269.19 L174.20,269.20 L174.55,268.88 L174.90,268.82 L175.25,268.59 L175.60,267.70 L175.95,267.48 L176.30,266.85 L176.65,266.76 L177.00,267.42 L177.35,267.97 L177.70,268.17 L178.05,268.73 L178.40,269.20 L178.75,269.19 L179.10,269.27 L179.45,269.10 L179.80,269.33 L180.15,269.14 L180.50,269.40 L180.85,269.32 L181.20,269.41 L181.55,269.09 L181.90,269.20 L182.25,269.43 L182.60,269.30 L182.95,269.23 L183.30,269.08 L183.65,269.37 L184.00,269.17 L184.35,269.08 L184.70,269.40 L185.05,269.03 L185.40,268.85 L185.75,268.58 L186.10,268.10 L186.45,267.59 L186.80,266.81 L187.15,266.59 L187.50,266.95 L187.85,267.35 L188.20,267.82 L188.55,268.62 L188.90,268.89 L189.25,269.24 L189.60,269.07 L189.95,269.14 L190.30,269.31 L190.65,269.14 L191.00,269.42 L191.35,269.15 L191.70,269.11 L192.05,269.20 L192.40,269.47 L192.75,269.27 L193.10,269.47 L193.45,269.48 L193.80,269.17 L194.15,269.38 L194.50,269.47 L194.85,269.34 L195.20,269.32 L195.55,269.23 L195.90,269.44 L196.25,269.34 L196.60,269.25 L196.95,269.11 L197.30,269.37 L197.65,269.11 L198.00,269.36 L198.35,269.26 L198.70,269.42 L199.05,269.13 L199.40,269.16 L199.75,269.15 L200.10,269.24 L200.45,269.13 L200.80,269.47 L201.15,269.17 L201.50,269.19 L201.85,269.49 L202.20,269.14 L202.55,269.44 L202.90,269.11 L203.25,269.18 L203.60,269.49 L203.95,269.27 L204.30,269.38 L204.65,269.22 L205.00,269.34 L205.35,269.11 L205.70,269.20 L206.05,269.36 L206.40,269.38 L206.75,269.28 L207.10,269.40 L207.45,269.17 L207.80,269.44 L208.15,269.17 L208.50,269.17 L208.85,269.26 L209.20,269.27 L209.55,269.38 L209.90,269.30 L210.25,269.31 L210.60,269.22 L210.95,269.16 L211.30,269.40 L211.65,269.18 L212.00,269.47 L212.35,269.46 L212.70,269.47 L213.05,269.17 L213.40,269.33 L213.75,269.17 L214.10,269.25 L214.45,269.22 L214.80,269.20 L215.15,269.08 L215.50,269.12 L215.85,269.25 L216.20,269.19 L216.55,268.90 L216.90,268.70 L217.25,268.66 L217.60,268.37 L217.95,268.46 L218.30,268.53 L218.65,268.70 L219.00,268.98 L219.35,269.19 L219.70,269.16 L220.05,269.34 L220.40,269.14 L220.75,269.10 L221.10,269.21 L221.45,269.19 L221.80,269.46 L222.15,269.28 L222.50,269.45 L222.85,269.14 L223.20,269.49 L223.55,269.18 L223.90,269.34 L224.25,269.22 L224.60,269.43 L224.95,269.37 L225.30,269.31 L225.65,269.14 L226.00,269.26 L226.35,268.91 L226.70,268.68 L227.05,268.67 L227.40,268.43 L227.75,268.75 L228.10,268.85 L228.45,268.80 L228.80,268.96 L229.15,269.24 L229.50,269.40 L229.85,269.26 L230.20,269.35 L230.55,269.17 L230.90,269.16 L231.25,269.14 L231.60,269.47 L231.95,269.23 L232.30,269.32 L232.65,269.35 L233.00,269.24 L233.35,269.35 L233.70,269.25 L234.05,269.31 L234.40,269.16 L234.75,269.08 L235.10,269.17 L235.45,268.67 L235.80,268.69 L236.15,268.75 L236.50,268.78 L236.85,268.69 L237.20,268.97 L237.55,268.91 L237.90,269.33 L238.25,269.32 L238.60,269.35 L238.95,269.30 L239.30,269.49 L239.65,269.12 L240.00,269.40 L240.35,269.49 L240.70,269.21 L241.05,269.15 L241.40,269.40 L241.75,269.22 L242.10,269.17 L242.45,269.34 L242.80,269.21" stroke="#3a3a3a"/>
</g>
<rect x="45.5" y="124.5" width="197.9" height="149.1" fill="none" stroke="#333" stroke-width="1"/>
<line x1="45.5" y1="273.6" x2="45.5" y2="271.1" stroke="#333" stroke-width="1"/>
<line x1="65.3" y1="273.6" x2="65.3" y2="272.1" stroke="#333" stroke-width="1"/>
<line x1="85.1" y1="273.6" x2="85.1" y2="271.1" stroke="#333" stroke-width="1"/>
<line x1="104.9" y1="273.6" x2="104.9" y2="272.1" stroke="#333" stroke-width="1"/>
<line x1="124.7" y1="273.6" x2="124.7" y2="271.1" stroke="#333" stroke-width="1"/>
<line x1="144.4" y1="273.6" x2="144.4" y2="272.1" stroke="#333" stroke-width="1"/>
<line x1="164.2" y1="273.6" x2="164.2" y2="271.1" stroke="#333" stroke-width="1"/>
<line x1="184.0" y1="273.6" x2="184.0" y2="272.1" stroke="#333" stroke-width="1"/>
<line x1="203.8" y1="273.6" x2="203.8" y2="271.1" stroke="#333" stroke-width="1"/>
<line x1="223.6" y1="273.6" x2="223.6" y2="272.1" stroke="#333" stroke-width="1"/>
<line x1="243.4" y1="273.6" x2="243.4" y2="271.1" stroke="#333" stroke-width="1"/>
<text stroke="#1e1e1e" stroke-width="0.15" x="39.23" y="286.20" font-size="10.80" fill="#1e1e1e" textLength="12.72" lengthAdjust="spacingAndGlyphs">10</text>
<text stroke="#1e1e1e" stroke-width="0.15" x="79.12" y="286.20" font-size="10.80" fill="#1e1e1e" textLength="12.40" lengthAdjust="spacingAndGlyphs">20</text>
<text stroke="#1e1e1e" stroke-width="0.15" x="118.84" y="286.20" font-size="10.80" fill="#1e1e1e" textLength="12.25" lengthAdjust="spacingAndGlyphs">30</text>
<text stroke="#1e1e1e" stroke-width="0.15" x="158.59" y="286.20" font-size="10.80" fill="#1e1e1e" textLength="12.08" lengthAdjust="spacingAndGlyphs">40</text>
<text stroke="#1e1e1e" stroke-width="0.15" x="197.98" y="286.20" font-size="10.80" fill="#1e1e1e" textLength="12.28" lengthAdjust="spacingAndGlyphs">50</text>
<text stroke="#1e1e1e" stroke-width="0.15" x="237.43" y="286.20" font-size="10.80" fill="#1e1e1e" textLength="12.41" lengthAdjust="spacingAndGlyphs">60</text>
<text stroke="#1e1e1e" stroke-width="0.22" x="116.69" y="300.60" font-size="13.50" fill="#1e1e1e" textLength="59.09" lengthAdjust="spacingAndGlyphs">2θ (Deg.)</text>
<text stroke="#1e1e1e" stroke-width="0.22" transform="rotate(-90)" x="-262.13" y="35.30" font-size="13.40" fill="#1e1e1e" textLength="127.34" lengthAdjust="spacingAndGlyphs">Intensity (arb.units.)</text>
<text x="7.98" y="125.60" font-size="13.00" fill="#1f1f1f" textLength="16.25" lengthAdjust="spacingAndGlyphs">(e)</text>
<text stroke="#1e1e1e" stroke-width="0.08" x="66.60" y="266.60" font-size="7.60" font-weight="bold" fill="#1e1e1e" textLength="18.60" lengthAdjust="spacingAndGlyphs">(100)</text>
<text stroke="#1e1e1e" stroke-width="0.08" x="106.12" y="266.40" font-size="7.60" font-weight="bold" fill="#1e1e1e" textLength="17.87" lengthAdjust="spacingAndGlyphs">(200)</text>
<line x1="50.1" y1="133.7" x2="64.4" y2="133.7" stroke="#3aa86a" stroke-width="1.3"/>
<text stroke="#1e1e1e" stroke-width="0.08" x="66.29" y="135.80" font-size="8.80" fill="#1e1e1e" textLength="43.46" lengthAdjust="spacingAndGlyphs">MABr:PbBr</text>
<text stroke="#1e1e1e" stroke-width="0.08" x="109.30" y="137.10" font-size="6.00" fill="#1e1e1e" textLength="3.29" lengthAdjust="spacingAndGlyphs">2</text>
<text stroke="#1e1e1e" stroke-width="0.08" x="116.08" y="135.80" font-size="8.80" fill="#1e1e1e" textLength="35.83" lengthAdjust="spacingAndGlyphs">= 1.25 : 1</text>
<line x1="50.1" y1="146.6" x2="64.4" y2="146.6" stroke="#2a6dd8" stroke-width="1.3"/>
<text stroke="#1e1e1e" stroke-width="0.08" x="66.29" y="148.70" font-size="8.80" fill="#1e1e1e" textLength="43.46" lengthAdjust="spacingAndGlyphs">MABr:PbBr</text>
<text stroke="#1e1e1e" stroke-width="0.08" x="109.30" y="150.00" font-size="6.00" fill="#1e1e1e" textLength="3.29" lengthAdjust="spacingAndGlyphs">2</text>
<text stroke="#1e1e1e" stroke-width="0.08" x="116.08" y="148.70" font-size="8.80" fill="#1e1e1e" textLength="35.83" lengthAdjust="spacingAndGlyphs">= 1.00 : 1</text>
<line x1="50.1" y1="159.5" x2="64.4" y2="159.5" stroke="#e6404e" stroke-width="1.3"/>
<text stroke="#1e1e1e" stroke-width="0.08" x="66.29" y="161.60" font-size="8.80" fill="#1e1e1e" textLength="43.46" lengthAdjust="spacingAndGlyphs">MABr:PbBr</text>
<text stroke="#1e1e1e" stroke-width="0.08" x="109.30" y="162.90" font-size="6.00" fill="#1e1e1e" textLength="3.29" lengthAdjust="spacingAndGlyphs">2</text>
<text stroke="#1e1e1e" stroke-width="0.08" x="116.08" y="161.60" font-size="8.80" fill="#1e1e1e" textLength="35.83" lengthAdjust="spacingAndGlyphs">= 0.75 : 1</text>
<line x1="50.1" y1="172.4" x2="64.4" y2="172.4" stroke="#555" stroke-width="1.8"/>
<text stroke="#1e1e1e" stroke-width="0.08" x="66.29" y="174.50" font-size="8.80" fill="#1e1e1e" textLength="43.46" lengthAdjust="spacingAndGlyphs">MABr:PbBr</text>
<text stroke="#1e1e1e" stroke-width="0.08" x="109.30" y="175.80" font-size="6.00" fill="#1e1e1e" textLength="3.29" lengthAdjust="spacingAndGlyphs">2</text>
<text stroke="#1e1e1e" stroke-width="0.08" x="116.08" y="174.50" font-size="8.80" fill="#1e1e1e" textLength="35.83" lengthAdjust="spacingAndGlyphs">= 0.50 : 1</text>
<rect x="162.3" y="128.4" width="74.4" height="47.2" fill="#fff"/>
<clipPath id="cpi"><rect x="162.3" y="128.4" width="74.4" height="47.2"/></clipPath>
<g fill="none" stroke-width="0.9" stroke-linejoin="round" clip-path="url(#cpi)">
<path d="M162.40,136.13 L162.58,137.08 L162.83,137.92 L163.14,138.26 L163.50,139.12 L163.67,140.19 L163.79,140.82 L163.90,141.06 L164.07,141.11 L164.36,140.76 L164.81,140.91 L165.50,141.79 L165.69,142.01 L165.89,141.60 L166.10,141.51 L166.33,141.95 L166.56,142.29 L166.81,142.28 L167.07,142.23 L167.34,141.96 L167.61,141.47 L167.90,141.59 L168.19,141.89 L168.49,141.81 L168.80,141.62 L169.11,141.18 L169.43,141.16 L169.75,141.85 L170.08,142.07 L170.41,141.74 L170.74,141.62 L171.07,141.81 L171.41,142.19 L171.74,142.31 L172.08,142.04 L172.41,141.52 L172.75,141.21 L173.08,141.36 L173.41,141.43 L173.74,141.30 L174.06,141.23 L174.38,141.59 L174.69,142.07 L175.00,142.10 L175.29,141.64 L175.58,141.49 L175.89,141.83 L176.19,141.54 L176.50,141.31 L176.81,141.83 L177.13,141.90 L177.45,141.63 L177.77,141.54 L178.09,141.32 L178.41,141.11 L178.73,140.97 L179.06,141.12 L179.38,141.50 L179.70,141.68 L180.02,141.93 L180.34,142.38 L180.66,142.34 L180.97,141.94 L181.28,141.85 L181.59,141.94 L181.89,142.08 L182.19,141.89 L182.48,141.55 L182.77,141.60 L183.05,141.51 L183.32,141.55 L183.59,141.74 L183.85,141.42 L184.10,141.12 L184.34,141.08 L184.57,141.14 L184.79,141.23 L185.00,141.16 L185.48,141.47 L185.91,142.21 L186.30,142.29 L186.65,141.86 L186.97,141.62 L187.27,141.54 L187.53,141.52 L187.78,141.55 L188.00,141.51 L188.21,141.47 L188.42,141.65 L188.61,141.71 L188.81,141.66 L189.00,141.34 L189.40,141.20 L189.70,140.97 L189.94,140.71 L190.13,140.38 L190.31,139.98 L190.50,139.50 L190.79,138.66 L191.04,137.69 L191.28,136.50 L191.50,135.00 L191.81,132.00 L192.10,128.50 L192.30,126.00 M197.80,126.00 L197.98,128.48 L198.23,131.96 L198.50,135.00 L198.74,137.09 L199.00,138.74 L199.30,140.00 L199.38,140.65 L199.36,141.04 L199.61,141.29 L200.50,141.76 L200.67,141.54 L200.86,141.69 L201.07,141.97 L201.29,142.05 L201.52,142.01 L201.76,141.67 L202.01,141.33 L202.28,141.26 L202.55,141.37 L202.84,141.60 L203.13,141.69 L203.43,142.01 L203.74,142.27 L204.05,141.99 L204.37,141.97 L204.70,142.18 L205.03,142.12 L205.36,142.04 L205.70,142.07 L206.04,141.71 L206.38,141.33 L206.72,141.57 L207.06,141.86 L207.40,141.89 L207.73,142.13 L208.07,142.46 L208.40,142.25 L208.73,141.86 L209.06,141.81 L209.38,141.58 L209.69,141.24 L210.00,141.54 L210.29,142.29 L210.58,142.57 L210.88,142.30 L211.18,141.96 L211.48,141.70 L211.79,141.60 L212.09,141.43 L212.40,141.15 L212.71,141.29 L213.03,141.73 L213.34,141.73 L213.65,141.50 L213.97,141.47 L214.28,141.51 L214.59,141.54 L214.91,141.58 L215.22,141.99 L215.53,142.23 L215.84,142.13 L216.14,142.26 L216.45,142.29 L216.75,142.21 L217.04,142.01 L217.34,141.43 L217.63,141.37 L217.91,142.05 L218.19,142.22 L218.47,141.88 L218.74,141.57 L219.00,141.42 L219.26,141.76 L219.52,142.24 L219.76,142.24 L220.00,141.99 L220.38,142.11 L220.74,142.26 L221.10,141.81 L221.44,141.20 L221.78,141.16 L222.11,141.41 L222.43,141.45 L222.73,141.27 L223.03,141.25 L223.33,141.46 L223.61,141.75 L223.88,141.90 L224.15,141.73 L224.41,141.46 L224.66,141.11 L224.90,141.04 L225.13,141.08 L225.36,140.80 L225.58,140.82 L225.79,141.30 L226.00,141.57 L226.44,141.20 L226.81,140.77 L227.12,140.59 L227.40,140.56 L227.64,140.50 L227.86,139.99 L228.07,139.57 L228.28,139.44 L228.50,139.24 L228.83,139.11 L229.14,139.01 L229.43,138.85 L229.69,138.50 L229.95,137.96 L230.20,137.70 L230.49,137.86 L230.76,138.31 L231.01,138.74 L231.26,139.05 L231.50,139.35 L231.78,139.80 L232.04,140.48 L232.31,141.18 L232.60,141.21 L232.86,140.65 L233.14,140.42 L233.43,140.59 L233.72,140.38 L234.00,139.66 L234.27,139.14 L234.55,138.87 L234.81,138.42 L235.07,137.47 L235.30,136.34 L235.64,134.36 L235.94,131.84 L236.20,129.73 L236.44,128.49 L236.66,127.47 L236.80,126.54" stroke="#3aa86a"/>
<path d="M162.40,151.81 L162.56,151.77 L162.72,151.96 L162.90,152.46 L163.09,152.18 L163.29,151.64 L163.51,151.81 L163.73,151.85 L163.96,151.54 L164.20,151.53 L164.45,152.00 L164.71,152.41 L164.98,152.23 L165.26,152.26 L165.54,152.64 L165.83,152.62 L166.13,152.25 L166.44,152.20 L166.75,152.43 L167.07,151.98 L167.39,151.41 L167.72,151.69 L168.05,152.20 L168.39,152.13 L168.74,152.09 L169.08,152.21 L169.43,152.33 L169.79,152.95 L170.14,152.87 L170.50,152.12 L170.87,152.28 L171.23,152.34 L171.60,152.03 L171.96,152.18 L172.33,152.33 L172.70,152.20 L173.06,152.20 L173.43,152.44 L173.80,152.48 L174.17,152.60 L174.53,152.67 L174.89,152.23 L175.25,151.76 L175.61,151.92 L175.97,152.39 L176.32,152.28 L176.67,151.93 L177.02,152.12 L177.36,152.75 L177.70,152.83 L178.03,152.27 L178.36,152.23 L178.68,152.31 L179.00,152.24 L179.31,152.77 L179.62,153.19 L179.91,153.20 L180.20,153.01 L180.49,152.39 L180.76,152.21 L181.03,152.79 L181.29,152.95 L181.54,152.61 L181.78,152.65 L182.01,152.94 L182.23,152.69 L182.44,152.37 L182.63,152.29 L182.82,151.99 L183.00,151.75 L183.94,151.86 L184.62,152.24 L185.10,152.74 L185.41,152.84 L185.58,152.22 L185.66,151.97 L185.69,152.17 L185.69,151.57 L185.72,150.85 L185.81,150.82 L186.00,151.26 L186.31,151.68 L186.61,151.60 L186.91,151.08 L187.20,150.56 L187.48,150.50 L187.76,150.74 L188.02,150.40 L188.27,149.77 L188.50,149.69 L188.81,149.49 L189.09,148.54 L189.34,148.00 L189.57,147.41 L189.79,146.75 L190.00,146.00 L190.29,144.86 L190.54,143.66 L190.78,142.12 L191.00,140.00 L191.31,135.41 L191.60,129.93 L191.80,126.00 M198.40,126.00 L198.61,129.89 L198.90,135.33 L199.20,140.00 L199.44,142.98 L199.68,145.19 L200.00,147.00 L200.20,147.81 L200.41,148.50 L200.64,149.09 L200.90,149.61 L201.18,150.74 L201.50,150.97 L201.69,150.45 L201.83,150.37 L201.94,150.86 L202.08,150.93 L202.25,151.00 L202.50,151.19 L202.85,151.15 L203.34,151.51 L204.00,152.05 L204.19,152.22 L204.38,152.16 L204.59,152.02 L204.80,152.20 L205.03,152.11 L205.26,152.07 L205.49,152.30 L205.74,151.90 L205.99,151.89 L206.25,152.46 L206.52,152.73 L206.80,152.52 L207.08,151.81 L207.36,151.81 L207.65,152.23 L207.95,152.30 L208.26,152.50 L208.56,152.24 L208.88,151.84 L209.19,151.94 L209.51,151.93 L209.84,151.77 L210.17,151.50 L210.50,151.31 L210.83,151.46 L211.17,151.60 L211.51,151.76 L211.86,152.22 L212.20,152.72 L212.55,152.69 L212.89,152.26 L213.24,152.17 L213.59,152.26 L213.95,152.27 L214.30,152.16 L214.65,151.99 L215.00,152.37 L215.26,152.93 L215.52,152.82 L215.79,152.10 L216.07,151.93 L216.35,152.59 L216.63,152.56 L216.92,151.97 L217.21,151.84 L217.51,152.16 L217.81,152.47 L218.12,152.45 L218.43,152.39 L218.74,152.21 L219.05,152.10 L219.37,152.45 L219.69,152.81 L220.01,153.00 L220.33,152.78 L220.65,152.34 L220.98,152.15 L221.30,152.22 L221.63,152.51 L221.95,152.51 L222.28,152.16 L222.60,152.03 L222.92,152.20 L223.25,151.99 L223.57,152.05 L223.89,152.70 L224.21,152.90 L224.52,152.44 L224.84,151.75 L225.15,151.44 L225.46,151.62 L225.76,151.74 L226.07,151.72 L226.37,152.17 L226.66,152.71 L226.95,152.85 L227.24,153.03 L227.52,153.18 L227.79,152.91 L228.06,152.60 L228.33,152.66 L228.59,152.70 L228.84,152.69 L229.09,152.35 L229.32,151.97 L229.56,152.41 L229.78,152.76 L230.00,152.18 L230.46,151.68 L230.91,151.98 L231.34,151.93 L231.75,151.32 L232.15,151.14 L232.53,151.55 L232.89,152.22 L233.24,152.50 L233.57,152.31 L233.89,152.11 L234.19,151.57 L234.48,150.60 L234.75,150.06 L235.01,150.33 L235.26,150.76 L235.50,150.55 L235.72,150.08 L235.93,150.13 L236.12,150.71 L236.31,151.22 L236.48,151.16 L236.65,150.86 L236.80,150.85" stroke="#2a6dd8"/>
<path d="M162.40,162.50 L162.56,162.35 L162.73,162.01 L162.91,161.85 L163.10,162.05 L163.31,161.97 L163.53,161.64 L163.76,161.64 L164.01,161.96 L164.26,162.09 L164.52,162.26 L164.79,162.75 L165.08,162.77 L165.37,162.50 L165.66,162.43 L165.97,162.28 L166.28,162.28 L166.60,162.17 L166.93,162.04 L167.26,162.12 L167.60,162.22 L167.94,162.71 L168.29,163.26 L168.64,162.95 L168.99,162.26 L169.35,162.51 L169.71,163.08 L170.07,162.91 L170.43,162.53 L170.80,162.31 L171.16,162.38 L171.53,162.73 L171.90,162.55 L172.26,162.32 L172.62,162.82 L172.99,163.26 L173.35,163.33 L173.70,162.99 L174.06,162.35 L174.41,162.27 L174.76,162.31 L175.10,162.36 L175.44,162.68 L175.77,162.41 L176.10,162.01 L176.42,162.15 L176.73,162.36 L177.04,162.29 L177.34,162.01 L177.63,162.23 L177.91,163.02 L178.19,163.37 L178.45,162.96 L178.71,162.60 L178.95,162.58 L179.18,162.33 L179.41,162.05 L179.62,162.04 L179.81,161.95 L180.00,161.84 L180.79,162.21 L181.42,162.61 L181.90,162.38 L182.27,162.15 L182.54,162.33 L182.73,162.71 L182.87,162.95 L182.97,162.59 L183.07,161.85 L183.17,161.39 L183.31,161.31 L183.50,161.64 L183.86,161.78 L184.17,161.27 L184.45,160.58 L184.70,159.98 L184.94,159.70 L185.17,159.46 L185.40,159.49 L185.71,159.86 L185.98,160.16 L186.24,160.78 L186.51,161.00 L186.80,160.43 L187.07,160.47 L187.35,160.89 L187.64,160.65 L187.94,160.17 L188.22,159.73 L188.50,159.31 L188.76,159.00 L189.02,158.43 L189.28,157.78 L189.52,157.02 L189.76,156.10 L190.00,155.00 L190.28,153.50 L190.55,151.83 L190.81,149.91 L191.06,147.66 L191.30,145.00 L191.59,140.44 L191.88,134.88 L192.13,129.62 L192.30,126.00 M197.60,126.00 L197.79,131.33 L198.06,138.78 L198.30,145.00 L198.53,149.88 L198.80,153.00 L199.01,154.51 L199.26,155.83 L199.52,156.97 L199.80,158.00 L200.07,158.88 L200.34,159.60 L200.64,160.22 L201.00,160.80 L201.23,161.12 L201.48,161.41 L201.75,161.68 L202.03,161.90 L202.33,162.31 L202.65,162.71 L203.00,162.64 L203.21,162.46 L203.39,162.86 L203.56,163.26 L203.72,163.33 L203.90,163.43 L204.11,163.44 L204.35,163.44 L204.65,163.43 L205.02,163.37 L205.46,163.80 L206.00,164.35 L206.20,164.24 L206.42,163.97 L206.65,163.83 L206.90,163.36 L207.17,163.30 L207.44,163.98 L207.73,164.13 L208.03,163.52 L208.34,163.13 L208.66,163.48 L208.98,164.17 L209.31,164.48 L209.65,164.13 L209.99,163.53 L210.34,163.27 L210.68,163.68 L211.03,164.00 L211.38,163.75 L211.72,163.73 L212.07,164.02 L212.41,164.39 L212.74,164.63 L213.07,164.32 L213.39,163.88 L213.71,163.84 L214.01,163.79 L214.31,163.43 L214.59,163.41 L214.87,163.61 L215.12,163.53 L215.37,163.75 L215.60,164.18 L215.81,164.05 L216.00,163.82 L216.61,163.74 L217.08,163.67 L217.43,163.56 L217.68,163.32 L217.87,163.57 L218.02,163.62 L218.16,163.01 L218.31,162.84 L218.50,162.87 L218.81,162.55 L219.07,162.15 L219.31,161.80 L219.54,161.83 L219.76,161.61 L220.00,161.15 L220.24,161.40 L220.46,161.74 L220.69,161.65 L220.93,162.10 L221.19,162.61 L221.50,162.71 L221.69,162.99 L221.84,163.05 L221.98,162.97 L222.13,163.07 L222.32,163.28 L222.57,163.44 L222.92,163.54 L223.39,163.79 L224.00,163.89 L224.19,163.79 L224.40,163.77 L224.63,163.82 L224.88,163.75 L225.14,163.86 L225.41,164.06 L225.69,164.13 L225.99,163.96 L226.30,163.82 L226.61,163.84 L226.94,163.71 L227.27,163.53 L227.60,163.56 L227.94,163.97 L228.29,164.01 L228.63,163.58 L228.98,163.34 L229.33,163.29 L229.68,163.21 L230.02,163.00 L230.36,163.31 L230.70,163.78 L231.03,163.55 L231.36,163.20 L231.67,163.23 L231.98,163.48 L232.28,163.51 L232.57,163.32 L232.85,163.57 L233.11,164.00 L233.36,163.99 L233.59,163.75 L233.80,163.33 L234.00,163.00 L234.58,163.13 L235.07,162.98 L235.46,162.43 L235.77,162.18 L236.03,162.12 L236.23,161.87 L236.39,161.38 L236.53,161.38 L236.67,161.88 L236.80,162.07" stroke="#e6404e"/>
<path d="M162.40,172.02 L162.55,171.73 L162.72,171.77 L162.90,172.21 L163.09,172.19 L163.29,171.63 L163.51,171.64 L163.73,172.02 L163.96,171.85 L164.21,171.81 L164.46,172.10 L164.72,172.01 L164.99,171.81 L165.27,171.94 L165.55,172.27 L165.85,172.24 L166.15,171.81 L166.45,171.74 L166.77,172.13 L167.09,172.46 L167.41,172.37 L167.74,172.28 L168.08,172.22 L168.42,172.01 L168.76,172.25 L169.11,172.29 L169.46,171.76 L169.81,171.64 L170.17,171.75 L170.53,171.85 L170.89,171.97 L171.25,171.86 L171.62,171.72 L171.98,171.82 L172.35,172.06 L172.71,172.20 L173.08,172.19 L173.44,172.17 L173.80,172.22 L174.16,172.17 L174.52,172.34 L174.88,172.67 L175.23,172.80 L175.59,172.74 L175.93,172.50 L176.28,172.29 L176.62,172.45 L176.95,172.56 L177.29,172.44 L177.61,172.35 L177.93,172.31 L178.25,172.29 L178.55,172.13 L178.86,172.23 L179.15,172.40 L179.44,172.21 L179.72,172.24 L179.99,172.61 L180.25,172.54 L180.50,172.10 L180.75,171.86 L180.98,171.81 L181.21,171.92 L181.42,172.05 L181.63,172.08 L181.82,172.24 L182.00,172.22 L182.86,171.88 L183.54,171.68 L184.05,171.57 L184.43,171.49 L184.69,171.52 L184.87,171.63 L184.98,171.72 L185.06,171.75 L185.13,171.71 L185.21,171.24 L185.32,170.67 L185.50,170.53 L185.89,170.01 L186.21,169.48 L186.49,168.88 L186.73,167.98 L186.96,167.46 L187.20,167.40 L187.49,167.55 L187.76,167.75 L188.02,168.20 L188.27,168.78 L188.50,169.11 L188.77,169.79 L189.02,170.38 L189.26,170.66 L189.50,171.03 L189.75,171.50 L190.00,172.03 L190.25,171.58 L190.50,171.00 L190.75,170.10 L191.00,168.91 L191.25,167.26 L191.50,165.00 L191.75,162.09 L192.01,158.62 L192.26,154.59 L192.50,150.00 L192.75,144.07 L193.01,137.06 L193.24,130.52 L193.40,126.00 M196.70,126.00 L196.85,132.56 L197.07,141.78 L197.30,150.00 L197.51,155.98 L197.74,160.96 L198.00,165.00 L198.21,167.34 L198.42,169.08 L198.67,170.41 L199.00,171.50 L199.13,172.01 L199.15,172.37 L199.16,172.63 L199.25,172.81 L199.52,172.95 L200.08,173.40 L201.00,172.86 L201.18,172.67 L201.37,172.96 L201.58,173.28 L201.80,173.65 L202.04,173.94 L202.28,173.85 L202.54,173.58 L202.81,173.35 L203.09,173.33 L203.38,173.51 L203.68,173.33 L203.99,173.25 L204.31,173.45 L204.63,173.10 L204.96,172.79 L205.30,172.98 L205.64,173.14 L205.98,173.29 L206.33,173.48 L206.69,173.67 L207.04,173.80 L207.40,173.79 L207.76,173.96 L208.12,174.04 L208.48,173.87 L208.83,173.96 L209.19,174.22 L209.55,174.21 L209.90,174.12 L210.25,174.15 L210.59,173.96 L210.93,173.48 L211.26,173.32 L211.59,173.52 L211.91,173.42 L212.23,173.37 L212.53,173.55 L212.83,173.56 L213.12,173.39 L213.39,173.20 L213.66,173.40 L213.92,173.89 L214.16,174.19 L214.39,174.13 L214.61,173.77 L214.81,173.38 L215.00,173.34 L215.69,173.60 L216.24,173.55 L216.65,173.28 L216.96,173.37 L217.19,173.54 L217.36,173.29 L217.48,172.76 L217.59,172.49 L217.69,172.35 L217.82,172.33 L218.00,172.69 L218.34,172.54 L218.61,171.99 L218.84,171.79 L219.06,171.78 L219.27,171.93 L219.50,171.77 L219.73,171.14 L219.94,170.91 L220.16,171.26 L220.39,171.90 L220.66,172.43 L221.00,172.74 L221.19,173.15 L221.37,173.21 L221.55,172.91 L221.73,173.00 L221.92,173.23 L222.15,173.35 L222.40,173.48 L222.71,173.44 L223.07,173.12 L223.50,173.22 L224.00,173.61 L224.20,173.64 L224.42,173.79 L224.66,173.81 L224.91,173.64 L225.18,173.90 L225.46,173.88 L225.75,173.32 L226.06,173.10 L226.37,173.16 L226.69,173.42 L227.01,173.65 L227.35,173.44 L227.68,173.45 L228.02,173.65 L228.36,173.58 L228.70,173.77 L229.04,173.93 L229.38,173.54 L229.71,173.23 L230.04,173.61 L230.37,173.93 L230.68,173.80 L230.99,173.63 L231.29,173.28 L231.58,173.23 L231.85,173.50 L232.11,173.16 L232.36,172.70 L232.59,172.67 L232.80,172.96 L233.00,173.15 L233.57,172.84 L234.02,172.46 L234.36,172.34 L234.62,172.54 L234.83,172.56 L235.00,172.12 L235.15,171.57 L235.31,171.10 L235.50,170.88 L235.86,170.54 L236.17,169.91 L236.43,169.06 L236.64,168.18 L236.80,167.67" stroke="#3a3a3a"/>
</g>
<rect x="162.3" y="128.4" width="74.4" height="47.2" fill="none" stroke="#555" stroke-width="0.8"/>
<line x1="162.3" y1="175.6" x2="162.3" y2="174.1" stroke="#555" stroke-width="0.6"/>
<line x1="169.2" y1="175.6" x2="169.2" y2="174.8" stroke="#555" stroke-width="0.6"/>
<line x1="176.1" y1="175.6" x2="176.1" y2="174.1" stroke="#555" stroke-width="0.6"/>
<line x1="182.9" y1="175.6" x2="182.9" y2="174.8" stroke="#555" stroke-width="0.6"/>
<line x1="189.8" y1="175.6" x2="189.8" y2="174.1" stroke="#555" stroke-width="0.6"/>
<line x1="196.7" y1="175.6" x2="196.7" y2="174.8" stroke="#555" stroke-width="0.6"/>
<line x1="203.6" y1="175.6" x2="203.6" y2="174.1" stroke="#555" stroke-width="0.6"/>
<line x1="210.5" y1="175.6" x2="210.5" y2="174.8" stroke="#555" stroke-width="0.6"/>
<line x1="217.3" y1="175.6" x2="217.3" y2="174.1" stroke="#555" stroke-width="0.6"/>
<line x1="224.2" y1="175.6" x2="224.2" y2="174.8" stroke="#555" stroke-width="0.6"/>
<line x1="231.1" y1="175.6" x2="231.1" y2="174.1" stroke="#555" stroke-width="0.6"/>
<text x="159.07" y="181.70" font-size="5.20" fill="#333" textLength="6.25" lengthAdjust="spacingAndGlyphs">10</text>
<text x="172.83" y="181.70" font-size="5.20" fill="#333" textLength="6.32" lengthAdjust="spacingAndGlyphs">12</text>
<text x="186.60" y="181.70" font-size="5.20" fill="#333" textLength="6.19" lengthAdjust="spacingAndGlyphs">14</text>
<text x="200.35" y="181.70" font-size="5.20" fill="#333" textLength="6.28" lengthAdjust="spacingAndGlyphs">16</text>
<text x="214.11" y="181.70" font-size="5.20" fill="#333" textLength="6.27" lengthAdjust="spacingAndGlyphs">18</text>
<text x="228.03" y="181.70" font-size="5.20" fill="#333" textLength="6.09" lengthAdjust="spacingAndGlyphs">20</text>
<text x="171.49" y="137.60" font-size="6.60" font-weight="bold" fill="#e23a3a" textLength="14.60" lengthAdjust="spacingAndGlyphs">PbBr</text>
<text x="186.22" y="138.60" font-size="4.60" font-weight="bold" fill="#e23a3a" textLength="2.89" lengthAdjust="spacingAndGlyphs">2</text>
<text x="216.61" y="134.30" font-size="6.60" font-weight="bold" fill="#e23a3a" textLength="15.69" lengthAdjust="spacingAndGlyphs">MABr</text>
<g fill="none" stroke-width="1.35" stroke-linejoin="round">
<path d="M341.00,275.80 C348.33,275.77 376.50,275.68 385.00,275.60 C393.50,275.52 389.92,275.47 392.00,275.30 C394.08,275.13 395.83,274.95 397.50,274.60 C399.17,274.25 400.53,273.72 402.00,273.20 C403.47,272.68 404.88,272.02 406.30,271.50 C407.72,270.98 409.05,270.48 410.50,270.10 C411.95,269.72 413.42,269.40 415.00,269.20 C416.58,269.00 417.50,268.95 420.00,268.90 C422.50,268.85 425.00,268.87 430.00,268.90 C435.00,268.93 440.00,269.15 450.00,269.10 C460.00,269.05 475.17,268.83 490.00,268.60 C504.83,268.37 530.83,267.85 539.00,267.70" stroke="#3a3a3a"/>
<path d="M341.00,275.80 C346.67,275.77 368.00,275.70 375.00,275.60 C382.00,275.50 380.42,275.50 383.00,275.20 C385.58,274.90 388.08,274.60 390.50,273.80 C392.92,273.00 395.17,272.12 397.50,270.40 C399.83,268.68 402.45,266.15 404.50,263.50 C406.55,260.85 408.22,257.50 409.80,254.50 C411.38,251.50 412.72,248.05 414.00,245.50 C415.28,242.95 416.33,240.75 417.50,239.20 C418.67,237.65 419.72,236.83 421.00,236.20 C422.28,235.57 423.87,235.38 425.20,235.40 C426.53,235.42 427.78,235.88 429.00,236.30 C430.22,236.72 430.75,237.05 432.50,237.90 C434.25,238.75 436.58,240.35 439.50,241.40 C442.42,242.45 446.58,243.45 450.00,244.20 C453.42,244.95 456.82,245.53 460.00,245.90 C463.18,246.27 464.40,246.48 469.10,246.40 C473.80,246.32 481.83,245.85 488.20,245.40 C494.57,244.95 500.93,244.50 507.30,243.70 C513.67,242.90 521.12,241.43 526.40,240.60 C531.68,239.77 536.90,239.02 539.00,238.70" stroke="#e6404e"/>
<path d="M341.00,275.80 C345.83,275.78 363.50,275.78 370.00,275.70 C376.50,275.62 376.87,275.63 380.00,275.30 C383.13,274.97 386.47,274.53 388.80,273.70 C391.13,272.87 392.25,271.88 394.00,270.30 C395.75,268.72 397.83,266.50 399.30,264.20 C400.77,261.90 401.77,259.12 402.80,256.50 C403.83,253.88 404.68,251.25 405.50,248.50 C406.32,245.75 406.87,243.42 407.70,240.00 C408.53,236.58 409.53,232.17 410.50,228.00 C411.47,223.83 412.53,219.25 413.50,215.00 C414.47,210.75 415.52,206.20 416.30,202.50 C417.08,198.80 417.58,195.17 418.20,192.80 C418.82,190.43 419.37,189.38 420.00,188.30 C420.63,187.22 421.17,186.78 422.00,186.30 C422.83,185.82 423.88,185.35 425.00,185.40 C426.12,185.45 427.37,185.75 428.70,186.60 C430.03,187.45 431.12,188.57 433.00,190.50 C434.88,192.43 437.25,195.87 440.00,198.20 C442.75,200.53 447.00,202.93 449.50,204.50 C452.00,206.07 452.80,206.75 455.00,207.60 C457.20,208.45 459.82,209.13 462.70,209.60 C465.58,210.07 468.05,210.47 472.30,210.40 C476.55,210.33 482.37,210.03 488.20,209.20 C494.03,208.37 500.93,206.92 507.30,205.40 C513.67,203.88 521.12,201.80 526.40,200.10 C531.68,198.40 536.90,196.02 539.00,195.20" stroke="#2a6dd8"/>
<path d="M341.00,275.80 C345.83,275.78 363.50,275.78 370.00,275.70 C376.50,275.62 376.87,275.65 380.00,275.30 C383.13,274.95 386.47,274.45 388.80,273.60 C391.13,272.75 392.25,271.73 394.00,270.20 C395.75,268.67 397.83,266.60 399.30,264.40 C400.77,262.20 401.72,259.60 402.80,257.00 C403.88,254.40 404.83,251.63 405.80,248.80 C406.77,245.97 407.73,242.97 408.60,240.00 C409.47,237.03 410.10,234.33 411.00,231.00 C411.90,227.67 413.00,223.42 414.00,220.00 C415.00,216.58 416.15,212.87 417.00,210.50 C417.85,208.13 418.52,206.85 419.10,205.80 C419.68,204.75 420.02,204.62 420.50,204.20 C420.98,203.78 421.25,203.57 422.00,203.30 C422.75,203.03 423.88,202.60 425.00,202.60 C426.12,202.60 427.37,202.65 428.70,203.30 C430.03,203.95 431.12,204.97 433.00,206.50 C434.88,208.03 438.37,211.22 440.00,212.50 C441.63,213.78 441.22,213.38 442.80,214.20 C444.38,215.02 447.47,216.52 449.50,217.40 C451.53,218.28 452.80,218.90 455.00,219.50 C457.20,220.10 459.82,220.65 462.70,221.00 C465.58,221.35 468.05,221.63 472.30,221.60 C476.55,221.57 482.37,221.47 488.20,220.80 C494.03,220.13 500.93,218.83 507.30,217.60 C513.67,216.37 521.12,214.65 526.40,213.40 C531.68,212.15 536.90,210.65 539.00,210.10" stroke="#3aa86a"/>
</g>
<rect x="341.0" y="126.8" width="198.2" height="149.0" fill="none" stroke="#333" stroke-width="1"/>
<line x1="341.0" y1="275.8" x2="341.0" y2="273.3" stroke="#333" stroke-width="1"/>
<line x1="365.8" y1="275.8" x2="365.8" y2="274.3" stroke="#333" stroke-width="1"/>
<line x1="390.6" y1="275.8" x2="390.6" y2="273.3" stroke="#333" stroke-width="1"/>
<line x1="415.3" y1="275.8" x2="415.3" y2="274.3" stroke="#333" stroke-width="1"/>
<line x1="440.1" y1="275.8" x2="440.1" y2="273.3" stroke="#333" stroke-width="1"/>
<line x1="464.9" y1="275.8" x2="464.9" y2="274.3" stroke="#333" stroke-width="1"/>
<line x1="489.6" y1="275.8" x2="489.6" y2="273.3" stroke="#333" stroke-width="1"/>
<line x1="514.4" y1="275.8" x2="514.4" y2="274.3" stroke="#333" stroke-width="1"/>
<line x1="539.2" y1="275.8" x2="539.2" y2="273.3" stroke="#333" stroke-width="1"/>
<line x1="341.0" y1="275.8" x2="343.5" y2="275.8" stroke="#333" stroke-width="1"/>
<line x1="341.0" y1="257.2" x2="342.5" y2="257.2" stroke="#333" stroke-width="1"/>
<line x1="341.0" y1="238.6" x2="343.5" y2="238.6" stroke="#333" stroke-width="1"/>
<line x1="341.0" y1="219.9" x2="342.5" y2="219.9" stroke="#333" stroke-width="1"/>
<line x1="341.0" y1="201.3" x2="343.5" y2="201.3" stroke="#333" stroke-width="1"/>
<line x1="341.0" y1="182.7" x2="342.5" y2="182.7" stroke="#333" stroke-width="1"/>
<line x1="341.0" y1="164.1" x2="343.5" y2="164.1" stroke="#333" stroke-width="1"/>
<line x1="341.0" y1="145.4" x2="342.5" y2="145.4" stroke="#333" stroke-width="1"/>
<line x1="341.0" y1="126.8" x2="343.5" y2="126.8" stroke="#333" stroke-width="1"/>
<text stroke="#1e1e1e" stroke-width="0.15" x="332.18" y="289.40" font-size="10.20" fill="#1e1e1e" textLength="17.24" lengthAdjust="spacingAndGlyphs">2.2</text>
<text stroke="#1e1e1e" stroke-width="0.15" x="381.73" y="289.40" font-size="10.20" fill="#1e1e1e" textLength="17.16" lengthAdjust="spacingAndGlyphs">2.3</text>
<text stroke="#1e1e1e" stroke-width="0.15" x="431.29" y="289.40" font-size="10.20" fill="#1e1e1e" textLength="16.97" lengthAdjust="spacingAndGlyphs">2.4</text>
<text stroke="#1e1e1e" stroke-width="0.15" x="480.83" y="289.40" font-size="10.20" fill="#1e1e1e" textLength="17.14" lengthAdjust="spacingAndGlyphs">2.5</text>
<text stroke="#1e1e1e" stroke-width="0.15" x="530.38" y="289.40" font-size="10.20" fill="#1e1e1e" textLength="17.16" lengthAdjust="spacingAndGlyphs">2.6</text>
<text stroke="#1e1e1e" stroke-width="0.15" x="320.74" y="280.10" font-size="10.40" fill="#1e1e1e" textLength="16.53" lengthAdjust="spacingAndGlyphs">0.0</text>
<text stroke="#1e1e1e" stroke-width="0.15" x="296.55" y="243.05" font-size="10.40" fill="#1e1e1e" textLength="35.93" lengthAdjust="spacingAndGlyphs">3.0x10</text>
<text stroke="#1e1e1e" stroke-width="0.08" x="332.16" y="238.85" font-size="6.90" fill="#1e1e1e" textLength="5.18" lengthAdjust="spacingAndGlyphs">9</text>
<text stroke="#1e1e1e" stroke-width="0.15" x="296.39" y="205.80" font-size="10.40" fill="#1e1e1e" textLength="36.09" lengthAdjust="spacingAndGlyphs">6.0x10</text>
<text stroke="#1e1e1e" stroke-width="0.08" x="332.16" y="201.60" font-size="6.90" fill="#1e1e1e" textLength="5.18" lengthAdjust="spacingAndGlyphs">9</text>
<text stroke="#1e1e1e" stroke-width="0.15" x="296.44" y="168.55" font-size="10.40" fill="#1e1e1e" textLength="36.04" lengthAdjust="spacingAndGlyphs">9.0x10</text>
<text stroke="#1e1e1e" stroke-width="0.08" x="332.16" y="164.35" font-size="6.90" fill="#1e1e1e" textLength="5.18" lengthAdjust="spacingAndGlyphs">9</text>
<text stroke="#1e1e1e" stroke-width="0.15" x="291.69" y="131.10" font-size="10.40" fill="#1e1e1e" textLength="35.78" lengthAdjust="spacingAndGlyphs">1.2x10</text>
<text stroke="#1e1e1e" stroke-width="0.08" x="328.01" y="125.60" font-size="6.90" fill="#1e1e1e" textLength="8.59" lengthAdjust="spacingAndGlyphs">10</text>
<text stroke="#1e1e1e" stroke-width="0.22" x="374.56" y="307.00" font-size="15.00" fill="#1e1e1e" textLength="131.08" lengthAdjust="spacingAndGlyphs">Photon energy (eV)</text>
<text x="263.80" y="125.60" font-size="13.00" fill="#1f1f1f" textLength="15.19" lengthAdjust="spacingAndGlyphs">(f)</text>
<text stroke="#1e1e1e" stroke-width="0.22" transform="rotate(-90)" x="-255.43" y="288.00" font-size="13.00" fill="#1e1e1e" textLength="34.57" lengthAdjust="spacingAndGlyphs">(αhν)</text>
<text stroke="#1e1e1e" stroke-width="0.08" transform="rotate(-90)" x="-221.38" y="282.00" font-size="8.40" fill="#1e1e1e" textLength="6.46" lengthAdjust="spacingAndGlyphs">2</text>
<text stroke="#1e1e1e" stroke-width="0.22" transform="rotate(-90)" x="-214.92" y="288.00" font-size="13.00" fill="#1e1e1e" textLength="48.01" lengthAdjust="spacingAndGlyphs">(eV·cm</text>
<text stroke="#1e1e1e" stroke-width="0.08" transform="rotate(-90)" x="-166.60" y="281.50" font-size="8.40" fill="#1e1e1e" textLength="8.04" lengthAdjust="spacingAndGlyphs">-1</text>
<text stroke="#1e1e1e" stroke-width="0.22" transform="rotate(-90)" x="-156.99" y="288.00" font-size="13.00" fill="#1e1e1e" textLength="5.03" lengthAdjust="spacingAndGlyphs">)</text>
<text stroke="#1e1e1e" stroke-width="0.08" transform="rotate(-90)" x="-153.19" y="282.00" font-size="8.40" fill="#1e1e1e" textLength="6.59" lengthAdjust="spacingAndGlyphs">2</text>
<line x1="345.5" y1="136.4" x2="360.7" y2="136.4" stroke="#3aa86a" stroke-width="1.2"/>
<text stroke="#1e1e1e" stroke-width="0.08" x="363.15" y="138.40" font-size="9.00" fill="#1e1e1e" textLength="45.81" lengthAdjust="spacingAndGlyphs">MABr:PbBr</text>
<text stroke="#1e1e1e" stroke-width="0.08" x="409.17" y="139.90" font-size="6.20" fill="#1e1e1e" textLength="3.66" lengthAdjust="spacingAndGlyphs">2</text>
<text stroke="#1e1e1e" stroke-width="0.08" x="417.06" y="138.40" font-size="9.00" fill="#1e1e1e" textLength="37.88" lengthAdjust="spacingAndGlyphs">= 1.25 : 1</text>
<line x1="345.5" y1="150.2" x2="360.7" y2="150.2" stroke="#2a6dd8" stroke-width="1.2"/>
<text stroke="#1e1e1e" stroke-width="0.08" x="363.15" y="152.15" font-size="9.00" fill="#1e1e1e" textLength="45.81" lengthAdjust="spacingAndGlyphs">MABr:PbBr</text>
<text stroke="#1e1e1e" stroke-width="0.08" x="409.17" y="153.65" font-size="6.20" fill="#1e1e1e" textLength="3.66" lengthAdjust="spacingAndGlyphs">2</text>
<text stroke="#1e1e1e" stroke-width="0.08" x="417.06" y="152.15" font-size="9.00" fill="#1e1e1e" textLength="37.88" lengthAdjust="spacingAndGlyphs">= 1.00 : 1</text>
<line x1="345.5" y1="163.9" x2="360.7" y2="163.9" stroke="#e6404e" stroke-width="1.2"/>
<text stroke="#1e1e1e" stroke-width="0.08" x="363.15" y="165.90" font-size="9.00" fill="#1e1e1e" textLength="45.81" lengthAdjust="spacingAndGlyphs">MABr:PbBr</text>
<text stroke="#1e1e1e" stroke-width="0.08" x="409.17" y="167.40" font-size="6.20" fill="#1e1e1e" textLength="3.66" lengthAdjust="spacingAndGlyphs">2</text>
<text stroke="#1e1e1e" stroke-width="0.08" x="417.06" y="165.90" font-size="9.00" fill="#1e1e1e" textLength="37.88" lengthAdjust="spacingAndGlyphs">= 0.75 : 1</text>
<line x1="345.5" y1="177.7" x2="360.7" y2="177.7" stroke="#3a3a3a" stroke-width="1.2"/>
<text stroke="#1e1e1e" stroke-width="0.08" x="363.15" y="179.65" font-size="9.00" fill="#1e1e1e" textLength="45.81" lengthAdjust="spacingAndGlyphs">MABr:PbBr</text>
<text stroke="#1e1e1e" stroke-width="0.08" x="409.17" y="181.15" font-size="6.20" fill="#1e1e1e" textLength="3.66" lengthAdjust="spacingAndGlyphs">2</text>
<text stroke="#1e1e1e" stroke-width="0.08" x="417.06" y="179.65" font-size="9.00" fill="#1e1e1e" textLength="37.88" lengthAdjust="spacingAndGlyphs">= 0.50 : 1</text>
</svg></body></html>
